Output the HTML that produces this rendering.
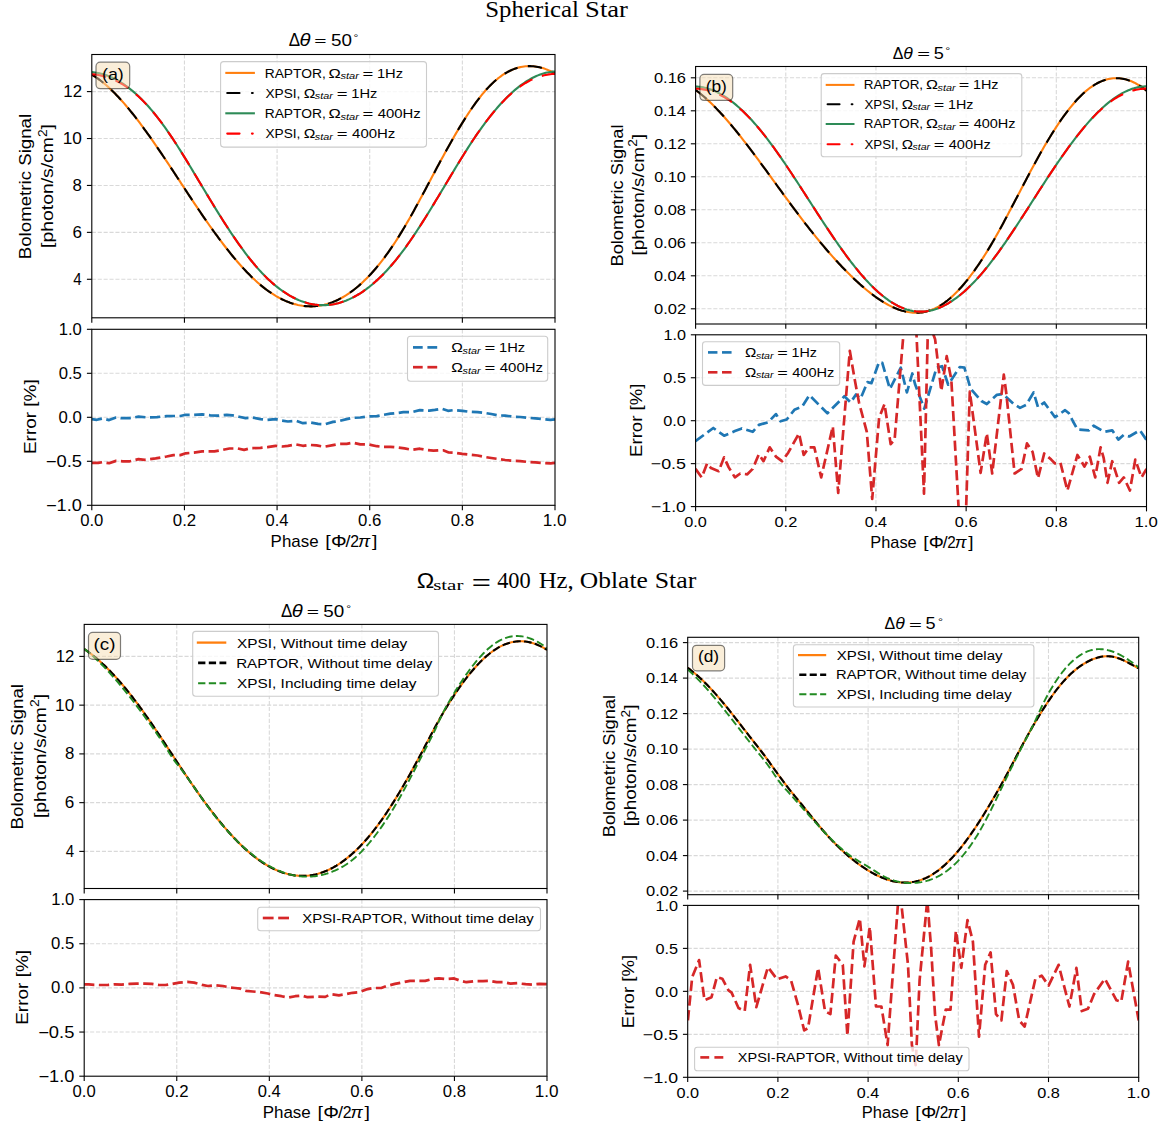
<!DOCTYPE html>
<html><head><meta charset="utf-8"><style>
html,body{margin:0;padding:0;background:#fff;}
svg{display:block;}
text{font-family:"Liberation Sans",sans-serif;}
</style></head><body>
<svg width="1170" height="1133" viewBox="0 0 1170 1133">
<rect width="1170" height="1133" fill="#fff"/>
<text transform="translate(485.24,16.6) scale(1.0842,1)" fill="#000"  xml:space="preserve"><tspan font-family="Liberation Serif" font-size="22.9">Spherical</tspan></text>
<text transform="translate(585.12,16.6) scale(1.1606,1)" fill="#000"  xml:space="preserve"><tspan font-family="Liberation Serif" font-size="22.9">Star</tspan></text>
<text transform="translate(416.69,587.6) scale(1.0351,1)" font-family="Liberation Serif" font-size="22.65" fill="#000" xml:space="preserve">Ω</text>
<text transform="translate(433.14,589.6) scale(1.3514,1)" fill="#000"  xml:space="preserve"><tspan font-family="Liberation Serif" font-size="15.5">star</tspan></text>
<text transform="translate(471.86,589.54) scale(1.4678,1)" font-family="Liberation Serif" font-size="22.4" fill="#000" xml:space="preserve">=</text>
<text transform="translate(497.16,587.7) scale(0.9529,1)" fill="#000"  xml:space="preserve"><tspan font-family="Liberation Serif" font-size="23.5">400</tspan></text>
<text transform="translate(538.69,587.7) scale(1.0540,1)" fill="#000"  xml:space="preserve"><tspan font-family="Liberation Serif" font-size="23.5">Hz,</tspan></text>
<text transform="translate(579.85,587.7) scale(1.0861,1)" fill="#000"  xml:space="preserve"><tspan font-family="Liberation Serif" font-size="23.5">Oblate</tspan></text>
<text transform="translate(654.77,587.7) scale(1.0977,1)" fill="#000"  xml:space="preserve"><tspan font-family="Liberation Serif" font-size="23.5">Star</tspan></text>
<clipPath id="cma"><rect x="91.8" y="54.5" width="463.2" height="263.3"/></clipPath>
<clipPath id="cea"><rect x="91.8" y="329.3" width="463.2" height="176"/></clipPath>
<line x1="184.44" y1="54.5" x2="184.44" y2="317.8" stroke="#d9d9d9" stroke-width="1.1" stroke-dasharray="4.1 1.8" />
<line x1="277.08" y1="54.5" x2="277.08" y2="317.8" stroke="#d9d9d9" stroke-width="1.1" stroke-dasharray="4.1 1.8" />
<line x1="369.72" y1="54.5" x2="369.72" y2="317.8" stroke="#d9d9d9" stroke-width="1.1" stroke-dasharray="4.1 1.8" />
<line x1="462.36" y1="54.5" x2="462.36" y2="317.8" stroke="#d9d9d9" stroke-width="1.1" stroke-dasharray="4.1 1.8" />
<line x1="91.8" y1="279.28" x2="555" y2="279.28" stroke="#d9d9d9" stroke-width="1.1" stroke-dasharray="4.1 1.8" />
<line x1="91.8" y1="232.36" x2="555" y2="232.36" stroke="#d9d9d9" stroke-width="1.1" stroke-dasharray="4.1 1.8" />
<line x1="91.8" y1="185.44" x2="555" y2="185.44" stroke="#d9d9d9" stroke-width="1.1" stroke-dasharray="4.1 1.8" />
<line x1="91.8" y1="138.52" x2="555" y2="138.52" stroke="#d9d9d9" stroke-width="1.1" stroke-dasharray="4.1 1.8" />
<line x1="91.8" y1="91.6" x2="555" y2="91.6" stroke="#d9d9d9" stroke-width="1.1" stroke-dasharray="4.1 1.8" />
<line x1="184.44" y1="329.3" x2="184.44" y2="505.3" stroke="#d9d9d9" stroke-width="1.1" stroke-dasharray="4.1 1.8" />
<line x1="277.08" y1="329.3" x2="277.08" y2="505.3" stroke="#d9d9d9" stroke-width="1.1" stroke-dasharray="4.1 1.8" />
<line x1="369.72" y1="329.3" x2="369.72" y2="505.3" stroke="#d9d9d9" stroke-width="1.1" stroke-dasharray="4.1 1.8" />
<line x1="462.36" y1="329.3" x2="462.36" y2="505.3" stroke="#d9d9d9" stroke-width="1.1" stroke-dasharray="4.1 1.8" />
<line x1="91.8" y1="461.3" x2="555" y2="461.3" stroke="#d9d9d9" stroke-width="1.1" stroke-dasharray="4.1 1.8" />
<line x1="91.8" y1="417.3" x2="555" y2="417.3" stroke="#d9d9d9" stroke-width="1.1" stroke-dasharray="4.1 1.8" />
<line x1="91.8" y1="373.3" x2="555" y2="373.3" stroke="#d9d9d9" stroke-width="1.1" stroke-dasharray="4.1 1.8" />
<path d="M91.8 74.56 L93.35 75.5 L94.9 76.5 L96.45 77.55 L98 78.64 L99.55 79.78 L101.09 80.97 L102.64 82.2 L104.19 83.47 L105.74 84.79 L107.29 86.16 L108.84 87.56 L110.39 89 L111.94 90.49 L113.49 92.01 L115.04 93.57 L116.59 95.17 L118.14 96.8 L119.68 98.47 L121.23 100.17 L122.78 101.91 L124.33 103.68 L125.88 105.48 L127.43 107.31 L128.98 109.18 L130.53 111.07 L132.08 112.99 L133.63 114.94 L135.18 116.91 L136.73 118.91 L138.27 120.94 L139.82 122.98 L141.37 125.05 L142.92 127.15 L144.47 129.26 L146.02 131.4 L147.57 133.55 L149.12 135.72 L150.67 137.91 L152.22 140.12 L153.77 142.34 L155.32 144.58 L156.86 146.83 L158.41 149.1 L159.96 151.38 L161.51 153.67 L163.06 155.97 L164.61 158.27 L166.16 160.59 L167.71 162.92 L169.26 165.25 L170.81 167.59 L172.36 169.94 L173.91 172.28 L175.45 174.64 L177 176.99 L178.55 179.35 L180.1 181.7 L181.65 184.06 L183.2 186.42 L184.75 188.77 L186.3 191.12 L187.85 193.47 L189.4 195.82 L190.95 198.16 L192.5 200.49 L194.04 202.81 L195.59 205.13 L197.14 207.44 L198.69 209.74 L200.24 212.02 L201.79 214.3 L203.34 216.56 L204.89 218.81 L206.44 221.05 L207.99 223.27 L209.54 225.48 L211.09 227.66 L212.63 229.83 L214.18 231.99 L215.73 234.12 L217.28 236.24 L218.83 238.34 L220.38 240.41 L221.93 242.47 L223.48 244.5 L225.03 246.51 L226.58 248.5 L228.13 250.46 L229.68 252.4 L231.22 254.32 L232.77 256.21 L234.32 258.07 L235.87 259.9 L237.42 261.71 L238.97 263.49 L240.52 265.24 L242.07 266.97 L243.62 268.66 L245.17 270.32 L246.72 271.95 L248.27 273.54 L249.81 275.11 L251.36 276.64 L252.91 278.14 L254.46 279.6 L256.01 281.03 L257.56 282.42 L259.11 283.77 L260.66 285.09 L262.21 286.37 L263.76 287.61 L265.31 288.81 L266.86 289.97 L268.4 291.1 L269.95 292.18 L271.5 293.23 L273.05 294.23 L274.6 295.2 L276.15 296.13 L277.7 297.01 L279.25 297.86 L280.8 298.67 L282.35 299.44 L283.9 300.17 L285.45 300.86 L286.99 301.5 L288.54 302.11 L290.09 302.68 L291.64 303.21 L293.19 303.69 L294.74 304.14 L296.29 304.54 L297.84 304.91 L299.39 305.23 L300.94 305.51 L302.49 305.76 L304.04 305.96 L305.58 306.11 L307.13 306.23 L308.68 306.31 L310.23 306.34 L311.78 306.33 L313.33 306.28 L314.88 306.19 L316.43 306.05 L317.98 305.88 L319.53 305.66 L321.08 305.4 L322.63 305.09 L324.17 304.75 L325.72 304.36 L327.27 303.93 L328.82 303.45 L330.37 302.93 L331.92 302.37 L333.47 301.77 L335.02 301.12 L336.57 300.43 L338.12 299.7 L339.67 298.92 L341.22 298.1 L342.76 297.24 L344.31 296.33 L345.86 295.38 L347.41 294.38 L348.96 293.34 L350.51 292.26 L352.06 291.14 L353.61 289.97 L355.16 288.75 L356.71 287.5 L358.26 286.2 L359.81 284.85 L361.35 283.46 L362.9 282.03 L364.45 280.55 L366 279.03 L367.55 277.47 L369.1 275.86 L370.65 274.2 L372.2 272.51 L373.75 270.77 L375.3 268.98 L376.85 267.15 L378.4 265.28 L379.94 263.36 L381.49 261.39 L383.04 259.39 L384.59 257.33 L386.14 255.24 L387.69 253.1 L389.24 250.91 L390.79 248.68 L392.34 246.4 L393.89 244.08 L395.44 241.72 L396.99 239.31 L398.53 236.86 L400.08 234.37 L401.63 231.84 L403.18 229.27 L404.73 226.67 L406.28 224.03 L407.83 221.37 L409.38 218.67 L410.93 215.94 L412.48 213.19 L414.03 210.41 L415.58 207.61 L417.12 204.79 L418.67 201.95 L420.22 199.09 L421.77 196.21 L423.32 193.32 L424.87 190.42 L426.42 187.51 L427.97 184.59 L429.52 181.67 L431.07 178.75 L432.62 175.83 L434.17 172.91 L435.71 170 L437.26 167.1 L438.81 164.21 L440.36 161.33 L441.91 158.47 L443.46 155.63 L445.01 152.8 L446.56 149.99 L448.11 147.2 L449.66 144.44 L451.21 141.7 L452.76 138.98 L454.3 136.3 L455.85 133.64 L457.4 131.01 L458.95 128.41 L460.5 125.85 L462.05 123.33 L463.6 120.84 L465.15 118.39 L466.7 115.98 L468.25 113.61 L469.8 111.29 L471.35 109.01 L472.89 106.77 L474.44 104.59 L475.99 102.45 L477.54 100.37 L479.09 98.34 L480.64 96.37 L482.19 94.45 L483.74 92.59 L485.29 90.79 L486.84 89.05 L488.39 87.37 L489.94 85.76 L491.48 84.21 L493.03 82.73 L494.58 81.32 L496.13 79.97 L497.68 78.69 L499.23 77.47 L500.78 76.32 L502.33 75.23 L503.88 74.21 L505.43 73.25 L506.98 72.35 L508.53 71.51 L510.07 70.74 L511.62 70.03 L513.17 69.38 L514.72 68.79 L516.27 68.26 L517.82 67.79 L519.37 67.38 L520.92 67.02 L522.47 66.73 L524.02 66.5 L525.57 66.32 L527.12 66.2 L528.66 66.14 L530.21 66.14 L531.76 66.19 L533.31 66.3 L534.86 66.46 L536.41 66.68 L537.96 66.95 L539.51 67.28 L541.06 67.66 L542.61 68.09 L544.16 68.58 L545.71 69.12 L547.25 69.71 L548.8 70.35 L550.35 71.04 L551.9 71.79 L553.45 72.59 L555 73.43" fill="none" stroke="#ff7f0e" stroke-width="2.1" stroke-linejoin="round" clip-path="url(#cma)" />
<path d="M91.8 74.56 L93.35 75.5 L94.9 76.5 L96.45 77.55 L98 78.64 L99.55 79.78 L101.09 80.97 L102.64 82.2 L104.19 83.47 L105.74 84.79 L107.29 86.16 L108.84 87.56 L110.39 89 L111.94 90.49 L113.49 92.01 L115.04 93.57 L116.59 95.17 L118.14 96.8 L119.68 98.47 L121.23 100.17 L122.78 101.91 L124.33 103.68 L125.88 105.48 L127.43 107.31 L128.98 109.18 L130.53 111.07 L132.08 112.99 L133.63 114.94 L135.18 116.91 L136.73 118.91 L138.27 120.94 L139.82 122.98 L141.37 125.05 L142.92 127.15 L144.47 129.26 L146.02 131.4 L147.57 133.55 L149.12 135.72 L150.67 137.91 L152.22 140.12 L153.77 142.34 L155.32 144.58 L156.86 146.83 L158.41 149.1 L159.96 151.38 L161.51 153.67 L163.06 155.97 L164.61 158.27 L166.16 160.59 L167.71 162.92 L169.26 165.25 L170.81 167.59 L172.36 169.94 L173.91 172.28 L175.45 174.64 L177 176.99 L178.55 179.35 L180.1 181.7 L181.65 184.06 L183.2 186.42 L184.75 188.77 L186.3 191.12 L187.85 193.47 L189.4 195.82 L190.95 198.16 L192.5 200.49 L194.04 202.81 L195.59 205.13 L197.14 207.44 L198.69 209.74 L200.24 212.02 L201.79 214.3 L203.34 216.56 L204.89 218.81 L206.44 221.05 L207.99 223.27 L209.54 225.48 L211.09 227.66 L212.63 229.83 L214.18 231.99 L215.73 234.12 L217.28 236.24 L218.83 238.34 L220.38 240.41 L221.93 242.47 L223.48 244.5 L225.03 246.51 L226.58 248.5 L228.13 250.46 L229.68 252.4 L231.22 254.32 L232.77 256.21 L234.32 258.07 L235.87 259.9 L237.42 261.71 L238.97 263.49 L240.52 265.24 L242.07 266.97 L243.62 268.66 L245.17 270.32 L246.72 271.95 L248.27 273.54 L249.81 275.11 L251.36 276.64 L252.91 278.14 L254.46 279.6 L256.01 281.03 L257.56 282.42 L259.11 283.77 L260.66 285.09 L262.21 286.37 L263.76 287.61 L265.31 288.81 L266.86 289.97 L268.4 291.1 L269.95 292.18 L271.5 293.23 L273.05 294.23 L274.6 295.2 L276.15 296.13 L277.7 297.01 L279.25 297.86 L280.8 298.67 L282.35 299.44 L283.9 300.17 L285.45 300.86 L286.99 301.5 L288.54 302.11 L290.09 302.68 L291.64 303.21 L293.19 303.69 L294.74 304.14 L296.29 304.54 L297.84 304.91 L299.39 305.23 L300.94 305.51 L302.49 305.76 L304.04 305.96 L305.58 306.11 L307.13 306.23 L308.68 306.31 L310.23 306.34 L311.78 306.33 L313.33 306.28 L314.88 306.19 L316.43 306.05 L317.98 305.88 L319.53 305.66 L321.08 305.4 L322.63 305.09 L324.17 304.75 L325.72 304.36 L327.27 303.93 L328.82 303.45 L330.37 302.93 L331.92 302.37 L333.47 301.77 L335.02 301.12 L336.57 300.43 L338.12 299.7 L339.67 298.92 L341.22 298.1 L342.76 297.24 L344.31 296.33 L345.86 295.38 L347.41 294.38 L348.96 293.34 L350.51 292.26 L352.06 291.14 L353.61 289.97 L355.16 288.75 L356.71 287.5 L358.26 286.2 L359.81 284.85 L361.35 283.46 L362.9 282.03 L364.45 280.55 L366 279.03 L367.55 277.47 L369.1 275.86 L370.65 274.2 L372.2 272.51 L373.75 270.77 L375.3 268.98 L376.85 267.15 L378.4 265.28 L379.94 263.36 L381.49 261.39 L383.04 259.39 L384.59 257.33 L386.14 255.24 L387.69 253.1 L389.24 250.91 L390.79 248.68 L392.34 246.4 L393.89 244.08 L395.44 241.72 L396.99 239.31 L398.53 236.86 L400.08 234.37 L401.63 231.84 L403.18 229.27 L404.73 226.67 L406.28 224.03 L407.83 221.37 L409.38 218.67 L410.93 215.94 L412.48 213.19 L414.03 210.41 L415.58 207.61 L417.12 204.79 L418.67 201.95 L420.22 199.09 L421.77 196.21 L423.32 193.32 L424.87 190.42 L426.42 187.51 L427.97 184.59 L429.52 181.67 L431.07 178.75 L432.62 175.83 L434.17 172.91 L435.71 170 L437.26 167.1 L438.81 164.21 L440.36 161.33 L441.91 158.47 L443.46 155.63 L445.01 152.8 L446.56 149.99 L448.11 147.2 L449.66 144.44 L451.21 141.7 L452.76 138.98 L454.3 136.3 L455.85 133.64 L457.4 131.01 L458.95 128.41 L460.5 125.85 L462.05 123.33 L463.6 120.84 L465.15 118.39 L466.7 115.98 L468.25 113.61 L469.8 111.29 L471.35 109.01 L472.89 106.77 L474.44 104.59 L475.99 102.45 L477.54 100.37 L479.09 98.34 L480.64 96.37 L482.19 94.45 L483.74 92.59 L485.29 90.79 L486.84 89.05 L488.39 87.37 L489.94 85.76 L491.48 84.21 L493.03 82.73 L494.58 81.32 L496.13 79.97 L497.68 78.69 L499.23 77.47 L500.78 76.32 L502.33 75.23 L503.88 74.21 L505.43 73.25 L506.98 72.35 L508.53 71.51 L510.07 70.74 L511.62 70.03 L513.17 69.38 L514.72 68.79 L516.27 68.26 L517.82 67.79 L519.37 67.38 L520.92 67.02 L522.47 66.73 L524.02 66.5 L525.57 66.32 L527.12 66.2 L528.66 66.14 L530.21 66.14 L531.76 66.19 L533.31 66.3 L534.86 66.46 L536.41 66.68 L537.96 66.95 L539.51 67.28 L541.06 67.66 L542.61 68.09 L544.16 68.58 L545.71 69.12 L547.25 69.71 L548.8 70.35 L550.35 71.04 L551.9 71.79 L553.45 72.59 L555 73.43" fill="none" stroke="#000" stroke-width="2.1" stroke-dasharray="14.2 10.4" stroke-linejoin="round" clip-path="url(#cma)" />
<path d="M91.8 72.15 L93.35 72.29 L94.9 72.47 L96.45 72.7 L98 72.98 L99.55 73.3 L101.09 73.67 L102.64 74.09 L104.19 74.55 L105.74 75.06 L107.29 75.61 L108.84 76.21 L110.39 76.85 L111.94 77.54 L113.49 78.28 L115.04 79.06 L116.59 79.88 L118.14 80.75 L119.68 81.67 L121.23 82.63 L122.78 83.63 L124.33 84.68 L125.88 85.77 L127.43 86.9 L128.98 88.08 L130.53 89.3 L132.08 90.57 L133.63 91.87 L135.18 93.23 L136.73 94.62 L138.27 96.06 L139.82 97.54 L141.37 99.06 L142.92 100.63 L144.47 102.24 L146.02 103.89 L147.57 105.58 L149.12 107.31 L150.67 109.09 L152.22 110.9 L153.77 112.76 L155.32 114.66 L156.86 116.6 L158.41 118.59 L159.96 120.61 L161.51 122.67 L163.06 124.78 L164.61 126.92 L166.16 129.1 L167.71 131.32 L169.26 133.57 L170.81 135.86 L172.36 138.17 L173.91 140.52 L175.45 142.89 L177 145.29 L178.55 147.71 L180.1 150.16 L181.65 152.63 L183.2 155.11 L184.75 157.62 L186.3 160.14 L187.85 162.67 L189.4 165.22 L190.95 167.78 L192.5 170.34 L194.04 172.92 L195.59 175.5 L197.14 178.09 L198.69 180.67 L200.24 183.26 L201.79 185.85 L203.34 188.44 L204.89 191.02 L206.44 193.59 L207.99 196.16 L209.54 198.72 L211.09 201.27 L212.63 203.81 L214.18 206.34 L215.73 208.85 L217.28 211.35 L218.83 213.84 L220.38 216.3 L221.93 218.76 L223.48 221.19 L225.03 223.6 L226.58 226 L228.13 228.37 L229.68 230.72 L231.22 233.05 L232.77 235.35 L234.32 237.63 L235.87 239.89 L237.42 242.11 L238.97 244.31 L240.52 246.48 L242.07 248.61 L243.62 250.72 L245.17 252.79 L246.72 254.83 L248.27 256.84 L249.81 258.81 L251.36 260.75 L252.91 262.64 L254.46 264.5 L256.01 266.32 L257.56 268.1 L259.11 269.84 L260.66 271.53 L262.21 273.19 L263.76 274.8 L265.31 276.37 L266.86 277.9 L268.4 279.39 L269.95 280.83 L271.5 282.23 L273.05 283.6 L274.6 284.92 L276.15 286.19 L277.7 287.43 L279.25 288.63 L280.8 289.78 L282.35 290.89 L283.9 291.96 L285.45 292.99 L286.99 293.97 L288.54 294.92 L290.09 295.82 L291.64 296.68 L293.19 297.5 L294.74 298.28 L296.29 299.02 L297.84 299.71 L299.39 300.36 L300.94 300.97 L302.49 301.54 L304.04 302.07 L305.58 302.56 L307.13 303 L308.68 303.41 L310.23 303.77 L311.78 304.09 L313.33 304.37 L314.88 304.61 L316.43 304.8 L317.98 304.96 L319.53 305.07 L321.08 305.14 L322.63 305.17 L324.17 305.16 L325.72 305.11 L327.27 305.02 L328.82 304.88 L330.37 304.7 L331.92 304.49 L333.47 304.23 L335.02 303.93 L336.57 303.58 L338.12 303.2 L339.67 302.78 L341.22 302.31 L342.76 301.8 L344.31 301.26 L345.86 300.67 L347.41 300.04 L348.96 299.37 L350.51 298.66 L352.06 297.91 L353.61 297.11 L355.16 296.28 L356.71 295.41 L358.26 294.49 L359.81 293.54 L361.35 292.54 L362.9 291.51 L364.45 290.43 L366 289.32 L367.55 288.16 L369.1 286.97 L370.65 285.73 L372.2 284.45 L373.75 283.14 L375.3 281.78 L376.85 280.39 L378.4 278.95 L379.94 277.47 L381.49 275.96 L383.04 274.41 L384.59 272.81 L386.14 271.18 L387.69 269.5 L389.24 267.79 L390.79 266.04 L392.34 264.25 L393.89 262.42 L395.44 260.55 L396.99 258.64 L398.53 256.69 L400.08 254.7 L401.63 252.68 L403.18 250.61 L404.73 248.51 L406.28 246.38 L407.83 244.21 L409.38 242 L410.93 239.77 L412.48 237.5 L414.03 235.21 L415.58 232.89 L417.12 230.54 L418.67 228.17 L420.22 225.77 L421.77 223.35 L423.32 220.91 L424.87 218.46 L426.42 215.98 L427.97 213.49 L429.52 210.98 L431.07 208.46 L432.62 205.92 L434.17 203.38 L435.71 200.82 L437.26 198.26 L438.81 195.69 L440.36 193.11 L441.91 190.53 L443.46 187.94 L445.01 185.36 L446.56 182.77 L448.11 180.18 L449.66 177.6 L451.21 175.02 L452.76 172.44 L454.3 169.88 L455.85 167.32 L457.4 164.77 L458.95 162.24 L460.5 159.72 L462.05 157.22 L463.6 154.73 L465.15 152.27 L466.7 149.82 L468.25 147.4 L469.8 145 L471.35 142.63 L472.89 140.29 L474.44 137.98 L475.99 135.7 L477.54 133.44 L479.09 131.23 L480.64 129.04 L482.19 126.89 L483.74 124.77 L485.29 122.68 L486.84 120.63 L488.39 118.61 L489.94 116.63 L491.48 114.69 L493.03 112.78 L494.58 110.91 L496.13 109.07 L497.68 107.28 L499.23 105.52 L500.78 103.8 L502.33 102.12 L503.88 100.49 L505.43 98.89 L506.98 97.33 L508.53 95.81 L510.07 94.34 L511.62 92.9 L513.17 91.51 L514.72 90.16 L516.27 88.86 L517.82 87.6 L519.37 86.38 L520.92 85.21 L522.47 84.08 L524.02 83 L525.57 81.96 L527.12 80.97 L528.66 80.03 L530.21 79.13 L531.76 78.28 L533.31 77.48 L534.86 76.73 L536.41 76.02 L537.96 75.37 L539.51 74.76 L541.06 74.21 L542.61 73.7 L544.16 73.25 L545.71 72.84 L547.25 72.49 L548.8 72.19 L550.35 71.95 L551.9 71.75 L553.45 71.61 L555 71.53" fill="none" stroke="#2e8b57" stroke-width="2.1" stroke-linejoin="round" clip-path="url(#cma)" />
<path d="M91.8 74.25 L93.35 74.38 L94.9 74.55 L96.45 74.76 L98 75 L99.55 75.29 L101.09 75.61 L102.64 75.97 L104.19 76.36 L105.74 76.8 L107.29 77.28 L108.84 77.8 L110.39 78.37 L111.94 78.97 L113.49 79.62 L115.04 80.32 L116.59 81.05 L118.14 81.84 L119.68 82.67 L121.23 83.55 L122.78 84.47 L124.33 85.44 L125.88 86.46 L127.43 87.53 L128.98 88.64 L130.53 89.8 L132.08 91.01 L133.63 92.27 L135.18 93.58 L136.73 94.93 L138.27 96.33 L139.82 97.77 L141.37 99.27 L142.92 100.8 L144.47 102.39 L146.02 104.01 L147.57 105.69 L149.12 107.4 L150.67 109.16 L152.22 110.97 L153.77 112.82 L155.32 114.71 L156.86 116.64 L158.41 118.62 L159.96 120.63 L161.51 122.69 L163.06 124.79 L164.61 126.93 L166.16 129.11 L167.71 131.33 L169.26 133.58 L170.81 135.86 L172.36 138.18 L173.91 140.52 L175.45 142.89 L177 145.29 L178.55 147.72 L180.1 150.16 L181.65 152.63 L183.2 155.11 L184.75 157.62 L186.3 160.14 L187.85 162.67 L189.4 165.22 L190.95 167.78 L192.5 170.34 L194.04 172.92 L195.59 175.5 L197.14 178.09 L198.69 180.67 L200.24 183.26 L201.79 185.85 L203.34 188.44 L204.89 191.02 L206.44 193.59 L207.99 196.16 L209.54 198.72 L211.09 201.27 L212.63 203.81 L214.18 206.34 L215.73 208.85 L217.28 211.35 L218.83 213.84 L220.38 216.3 L221.93 218.76 L223.48 221.19 L225.03 223.6 L226.58 226 L228.13 228.37 L229.68 230.72 L231.22 233.05 L232.77 235.35 L234.32 237.63 L235.87 239.89 L237.42 242.11 L238.97 244.31 L240.52 246.48 L242.07 248.61 L243.62 250.72 L245.17 252.79 L246.72 254.83 L248.27 256.84 L249.81 258.81 L251.36 260.75 L252.91 262.64 L254.46 264.5 L256.01 266.32 L257.56 268.1 L259.11 269.84 L260.66 271.53 L262.21 273.19 L263.76 274.8 L265.31 276.37 L266.86 277.9 L268.4 279.39 L269.95 280.83 L271.5 282.23 L273.05 283.6 L274.6 284.92 L276.15 286.19 L277.7 287.43 L279.25 288.63 L280.8 289.78 L282.35 290.89 L283.9 291.96 L285.45 292.99 L286.99 293.97 L288.54 294.92 L290.09 295.82 L291.64 296.68 L293.19 297.5 L294.74 298.28 L296.29 299.02 L297.84 299.71 L299.39 300.36 L300.94 300.97 L302.49 301.54 L304.04 302.07 L305.58 302.56 L307.13 303 L308.68 303.41 L310.23 303.77 L311.78 304.09 L313.33 304.37 L314.88 304.61 L316.43 304.8 L317.98 304.96 L319.53 305.07 L321.08 305.14 L322.63 305.17 L324.17 305.16 L325.72 305.11 L327.27 305.02 L328.82 304.88 L330.37 304.7 L331.92 304.49 L333.47 304.23 L335.02 303.93 L336.57 303.58 L338.12 303.2 L339.67 302.78 L341.22 302.31 L342.76 301.8 L344.31 301.26 L345.86 300.67 L347.41 300.04 L348.96 299.37 L350.51 298.66 L352.06 297.91 L353.61 297.11 L355.16 296.28 L356.71 295.41 L358.26 294.49 L359.81 293.54 L361.35 292.54 L362.9 291.51 L364.45 290.43 L366 289.32 L367.55 288.16 L369.1 286.97 L370.65 285.73 L372.2 284.45 L373.75 283.14 L375.3 281.78 L376.85 280.39 L378.4 278.95 L379.94 277.47 L381.49 275.96 L383.04 274.41 L384.59 272.81 L386.14 271.18 L387.69 269.5 L389.24 267.79 L390.79 266.04 L392.34 264.25 L393.89 262.42 L395.44 260.55 L396.99 258.64 L398.53 256.69 L400.08 254.7 L401.63 252.68 L403.18 250.61 L404.73 248.51 L406.28 246.38 L407.83 244.21 L409.38 242 L410.93 239.77 L412.48 237.5 L414.03 235.21 L415.58 232.89 L417.12 230.54 L418.67 228.17 L420.22 225.77 L421.77 223.35 L423.32 220.91 L424.87 218.46 L426.42 215.98 L427.97 213.49 L429.52 210.98 L431.07 208.46 L432.62 205.92 L434.17 203.38 L435.71 200.82 L437.26 198.26 L438.81 195.69 L440.36 193.11 L441.91 190.53 L443.46 187.94 L445.01 185.36 L446.56 182.77 L448.11 180.18 L449.66 177.6 L451.21 175.02 L452.76 172.44 L454.3 169.88 L455.85 167.32 L457.4 164.77 L458.95 162.24 L460.5 159.72 L462.05 157.22 L463.6 154.73 L465.15 152.27 L466.7 149.82 L468.25 147.4 L469.8 145.01 L471.35 142.64 L472.89 140.29 L474.44 137.98 L475.99 135.7 L477.54 133.45 L479.09 131.24 L480.64 129.05 L482.19 126.9 L483.74 124.78 L485.29 122.7 L486.84 120.66 L488.39 118.65 L489.94 116.67 L491.48 114.74 L493.03 112.84 L494.58 110.98 L496.13 109.16 L497.68 107.38 L499.23 105.64 L500.78 103.94 L502.33 102.29 L503.88 100.68 L505.43 99.11 L506.98 97.59 L508.53 96.11 L510.07 94.67 L511.62 93.29 L513.17 91.95 L514.72 90.66 L516.27 89.41 L517.82 88.22 L519.37 87.07 L520.92 85.97 L522.47 84.92 L524.02 83.92 L525.57 82.97 L527.12 82.07 L528.66 81.22 L530.21 80.41 L531.76 79.66 L533.31 78.95 L534.86 78.29 L536.41 77.68 L537.96 77.11 L539.51 76.59 L541.06 76.12 L542.61 75.69 L544.16 75.3 L545.71 74.96 L547.25 74.67 L548.8 74.41 L550.35 74.2 L551.9 74.03 L553.45 73.91 L555 73.83" fill="none" stroke="#ff0000" stroke-width="2.1" stroke-dasharray="14.7 10.0" stroke-linejoin="round" clip-path="url(#cma)" />
<path d="M91.8 419.1 L96.8 419.8 L102.3 418.5 L109.1 420.1 L116 417.5 L121.5 418.2 L129.7 418.1 L138.5 416.7 L147.4 417.4 L157 417.1 L166.6 416.1 L173.4 416 L180.3 416 L185.7 414.8 L193.9 414.8 L202.1 414.4 L210.3 415.3 L218.5 415.7 L226.8 414.8 L232.2 415.3 L239.1 416.8 L245.5 418.1 L252.3 417.5 L260.5 419.1 L267.4 419.8 L275.6 419.1 L281 420.5 L287.9 421.5 L296.1 420.8 L302.9 423.2 L311.1 422.6 L318 423.9 L324.8 424.3 L333 421.9 L338.5 421.2 L346.7 419.1 L353.5 417.8 L360.3 417.5 L368.5 416.4 L376.8 416.1 L383.6 414.8 L390.4 413.7 L397.3 413 L403.3 412.2 L411.5 412.2 L419.8 410.1 L429.4 410.6 L434.9 409.9 L441.8 408.8 L448 410.8 L454.2 410.1 L462.4 410.8 L469.3 411.8 L477.6 412.2 L484.4 412.9 L491.3 414 L498.2 415.4 L505.1 415.6 L513.3 416.7 L520.2 417 L527.1 417.7 L535.4 418.4 L542.2 419.1 L550.5 419.8 L555 419.4" fill="none" stroke="#1f77b4" stroke-width="2.7" stroke-dasharray="10.3 4.5" stroke-linejoin="round" clip-path="url(#cea)" />
<path d="M91.8 462.9 L98.2 462.9 L102.3 462.2 L109.1 463.2 L116 460.9 L122.8 461.3 L129.7 461.3 L138.5 459.1 L144.7 459.8 L155.6 458.4 L166.6 456.5 L173.4 455.1 L180.3 455.1 L185.7 453.3 L193.9 452.6 L202.1 451.3 L209 451.3 L214.4 451.3 L222.6 449.9 L229.5 448.5 L237.7 448.5 L244.1 449.9 L250.9 448.1 L260.5 447.9 L267.4 447.2 L275.6 445.8 L282.4 446.5 L287.9 445.8 L296.1 444.4 L302.9 445.8 L309.7 444.9 L316.6 445.4 L324.1 446.8 L333 445.1 L338.5 444 L346.7 443.8 L352.8 442.7 L360.3 444.4 L368.5 444.4 L376.8 446.2 L382.2 446.8 L390.4 446.8 L398.6 447.6 L404.6 448.4 L411.5 449.8 L419.8 448.7 L425.3 449.8 L433.5 450.7 L440.4 450.3 L443.2 450.3 L448.7 452.5 L455.5 452.8 L462.4 453.9 L469.3 454.6 L477.6 455.5 L484.4 456.9 L491.3 458 L498.2 459 L505.1 460 L513.3 460.8 L520.2 461.1 L528.5 462 L535.4 462.4 L543.6 463.1 L550.5 463.4 L555 462.8" fill="none" stroke="#d62728" stroke-width="2.7" stroke-dasharray="10.3 4.5" stroke-linejoin="round" clip-path="url(#cea)" />
<rect x="91.8" y="54.5" width="463.2" height="263.3" fill="none" stroke="#000" stroke-width="1.1"/>
<line x1="86.9" y1="279.28" x2="91.8" y2="279.28" stroke="#000" stroke-width="1.1" />
<text transform="translate(73.25,284.78) scale(0.9668,1)" fill="#000"  xml:space="preserve"><tspan font-family="Liberation Sans" font-size="15.6">4</tspan></text>
<line x1="86.9" y1="232.36" x2="91.8" y2="232.36" stroke="#000" stroke-width="1.1" />
<text transform="translate(72.43,237.86) scale(1.0975,1)" fill="#000"  xml:space="preserve"><tspan font-family="Liberation Sans" font-size="15.6">6</tspan></text>
<line x1="86.9" y1="185.44" x2="91.8" y2="185.44" stroke="#000" stroke-width="1.1" />
<text transform="translate(72.57,190.94) scale(1.0792,1)" fill="#000"  xml:space="preserve"><tspan font-family="Liberation Sans" font-size="15.6">8</tspan></text>
<line x1="86.9" y1="138.52" x2="91.8" y2="138.52" stroke="#000" stroke-width="1.1" />
<text transform="translate(62.69,144.02) scale(1.1058,1)" fill="#000"  xml:space="preserve"><tspan font-family="Liberation Sans" font-size="15.6">10</tspan></text>
<line x1="86.9" y1="91.6" x2="91.8" y2="91.6" stroke="#000" stroke-width="1.1" />
<text transform="translate(63.32,97.1) scale(1.0794,1)" fill="#000"  xml:space="preserve"><tspan font-family="Liberation Sans" font-size="15.6">12</tspan></text>
<line x1="91.8" y1="317.8" x2="91.8" y2="322.7" stroke="#000" stroke-width="1.1" />
<line x1="184.44" y1="317.8" x2="184.44" y2="322.7" stroke="#000" stroke-width="1.1" />
<line x1="277.08" y1="317.8" x2="277.08" y2="322.7" stroke="#000" stroke-width="1.1" />
<line x1="369.72" y1="317.8" x2="369.72" y2="322.7" stroke="#000" stroke-width="1.1" />
<line x1="462.36" y1="317.8" x2="462.36" y2="322.7" stroke="#000" stroke-width="1.1" />
<line x1="555" y1="317.8" x2="555" y2="322.7" stroke="#000" stroke-width="1.1" />
<rect x="91.8" y="329.3" width="463.2" height="176" fill="none" stroke="#000" stroke-width="1.1"/>
<line x1="86.9" y1="505.3" x2="91.8" y2="505.3" stroke="#000" stroke-width="1.1" />
<text transform="translate(46,510.8) scale(1.1660,1)" fill="#000"  xml:space="preserve"><tspan font-family="Liberation Sans" font-size="15.6">−1.0</tspan></text>
<line x1="86.9" y1="461.3" x2="91.8" y2="461.3" stroke="#000" stroke-width="1.1" />
<text transform="translate(45.69,466.8) scale(1.1780,1)" fill="#000"  xml:space="preserve"><tspan font-family="Liberation Sans" font-size="15.6">−0.5</tspan></text>
<line x1="86.9" y1="417.3" x2="91.8" y2="417.3" stroke="#000" stroke-width="1.1" />
<text transform="translate(58.54,422.8) scale(1.0749,1)" fill="#000"  xml:space="preserve"><tspan font-family="Liberation Sans" font-size="15.6">0.0</tspan></text>
<line x1="86.9" y1="373.3" x2="91.8" y2="373.3" stroke="#000" stroke-width="1.1" />
<text transform="translate(58.65,378.8) scale(1.0724,1)" fill="#000"  xml:space="preserve"><tspan font-family="Liberation Sans" font-size="15.6">0.5</tspan></text>
<line x1="86.9" y1="329.3" x2="91.8" y2="329.3" stroke="#000" stroke-width="1.1" />
<text transform="translate(58.73,334.8) scale(1.0659,1)" fill="#000"  xml:space="preserve"><tspan font-family="Liberation Sans" font-size="15.6">1.0</tspan></text>
<line x1="91.8" y1="505.3" x2="91.8" y2="510.2" stroke="#000" stroke-width="1.1" />
<text transform="translate(80.2,526.1) scale(1.0700,1)" fill="#000"  xml:space="preserve"><tspan font-family="Liberation Sans" font-size="15.6">0.0</tspan></text>
<line x1="184.44" y1="505.3" x2="184.44" y2="510.2" stroke="#000" stroke-width="1.1" />
<text transform="translate(172.83,526.1) scale(1.0792,1)" fill="#000"  xml:space="preserve"><tspan font-family="Liberation Sans" font-size="15.6">0.2</tspan></text>
<line x1="277.08" y1="505.3" x2="277.08" y2="510.2" stroke="#000" stroke-width="1.1" />
<text transform="translate(265.48,526.1) scale(1.0621,1)" fill="#000"  xml:space="preserve"><tspan font-family="Liberation Sans" font-size="15.6">0.4</tspan></text>
<line x1="369.72" y1="505.3" x2="369.72" y2="510.2" stroke="#000" stroke-width="1.1" />
<text transform="translate(358.12,526.1) scale(1.0740,1)" fill="#000"  xml:space="preserve"><tspan font-family="Liberation Sans" font-size="15.6">0.6</tspan></text>
<line x1="462.36" y1="505.3" x2="462.36" y2="510.2" stroke="#000" stroke-width="1.1" />
<text transform="translate(450.76,526.1) scale(1.0736,1)" fill="#000"  xml:space="preserve"><tspan font-family="Liberation Sans" font-size="15.6">0.8</tspan></text>
<line x1="555" y1="505.3" x2="555" y2="510.2" stroke="#000" stroke-width="1.1" />
<text transform="translate(542.74,526.1) scale(1.1011,1)" fill="#000"  xml:space="preserve"><tspan font-family="Liberation Sans" font-size="15.6">1.0</tspan></text>
<text transform="translate(288.7,46) scale(0.9714,1)" font-family="Liberation Sans" font-size="17.44" fill="#000" xml:space="preserve">Δ</text>
<text transform="translate(299.5,46.03) scale(1.1342,1)" font-family="Liberation Sans" font-size="17.84" font-style="italic" fill="#000" xml:space="preserve">θ</text>
<text transform="translate(314.37,45.29) scale(1.5377,1)" font-family="Liberation Sans" font-size="13.65" fill="#000" xml:space="preserve">=</text>
<text transform="translate(331.04,46.03) scale(1.0953,1)" font-family="Liberation Sans" font-size="17.23" fill="#000" xml:space="preserve">50</text>
<text transform="translate(353.48,41.37) scale(1.3505,1)" font-family="Liberation Sans" font-size="8.98" fill="#000" xml:space="preserve">°</text>
<text transform="translate(270.61,546.7) scale(1.0185,1)" fill="#000"  xml:space="preserve"><tspan font-family="Liberation Sans" font-size="16.6">Phase</tspan></text>
<text transform="translate(325.3,546.7) scale(1.1822,1)" fill="#000"  xml:space="preserve"><tspan font-family="Liberation Sans" font-size="16.6">[</tspan></text>
<text transform="translate(331.08,546.7) scale(1.1800,1)" fill="#000"  xml:space="preserve"><tspan font-family="Liberation Sans" font-size="16.6">Φ</tspan></text>
<text transform="translate(345.6,546.7) scale(1.0841,1)" fill="#000"  xml:space="preserve"><tspan font-family="Liberation Sans" font-size="16.6">/</tspan></text>
<text transform="translate(350.31,546.7) scale(0.9521,1)" fill="#000"  xml:space="preserve"><tspan font-family="Liberation Sans" font-size="16.6">2</tspan></text>
<text transform="translate(358.09,546.7) scale(1.1002,1)" fill="#000"  xml:space="preserve"><tspan font-family="Liberation Sans" font-size="16.6" font-style="italic">π</tspan></text>
<text transform="translate(372.05,546.7) scale(1.1822,1)" fill="#000"  xml:space="preserve"><tspan font-family="Liberation Sans" font-size="16.6">]</tspan></text>
<text transform="translate(31.1,259.23) rotate(-90) scale(1.0990,1)" fill="#000"  xml:space="preserve"><tspan font-family="Liberation Sans" font-size="17">Bolometric Signal</tspan></text>
<text transform="translate(53.4,247.88) rotate(-90) scale(1.1390,1)" fill="#000"  xml:space="preserve"><tspan font-family="Liberation Sans" font-size="17">[photon/s/cm</tspan><tspan font-family="Liberation Sans" font-size="12.2" dy="-6.6">2</tspan><tspan font-family="Liberation Sans" font-size="17" dy="6.6">]</tspan></text>
<text transform="translate(36,454.06) rotate(-90) scale(1.1155,1)" fill="#000"  xml:space="preserve"><tspan font-family="Liberation Sans" font-size="17">Error [%]</tspan></text>
<rect x="96" y="62.2" width="33.7" height="26.5" rx="4.2" fill="#f5deb3" stroke="#000" stroke-width="1.2" fill-opacity="0.5" stroke-opacity="0.5"/>
<text transform="translate(101.94,79.75) scale(1.0624,1)" fill="#000"  xml:space="preserve"><tspan font-family="Liberation Sans" font-size="16.8">(a)</tspan></text>
<rect x="220.6" y="61.6" width="205.9" height="85.5" rx="3" fill="#ffffff" stroke="#cccccc" stroke-width="1.1" fill-opacity="0.8"/>
<line x1="225.3" y1="72.9" x2="254.9" y2="72.9" stroke="#ff7f0e" stroke-width="2.1" />
<line x1="227.25" y1="93" x2="239.55" y2="93" stroke="#000" stroke-width="2.1" stroke-linecap="round"/>
<line x1="251.95" y1="93" x2="252.75" y2="93" stroke="#000" stroke-width="2.1" stroke-linecap="round"/>
<line x1="225.3" y1="113.3" x2="254.9" y2="113.3" stroke="#2e8b57" stroke-width="2.1" />
<line x1="227.25" y1="133.6" x2="239.55" y2="133.6" stroke="#ff0000" stroke-width="2.1" stroke-linecap="round"/>
<line x1="251.95" y1="133.6" x2="252.75" y2="133.6" stroke="#ff0000" stroke-width="2.1" stroke-linecap="round"/>
<text transform="translate(264.67,77.5) scale(1.0304,1)" fill="#000"  xml:space="preserve"><tspan font-family="Liberation Sans" font-size="13.4">RAPTOR,</tspan></text>
<text transform="translate(328.6,77.5) scale(1.2285,1)" fill="#000"  xml:space="preserve"><tspan font-family="Liberation Sans" font-size="13.4">Ω</tspan></text>
<text transform="translate(340.47,79.2) scale(1.1473,1)" fill="#000"  xml:space="preserve"><tspan font-family="Liberation Sans" font-size="9.7" font-style="italic">star</tspan></text>
<text transform="translate(362.4,77.5) scale(1.3824,1)" fill="#000"  xml:space="preserve"><tspan font-family="Liberation Sans" font-size="13.4">=</tspan></text>
<text transform="translate(376.88,77.5) scale(1.1020,1)" fill="#000"  xml:space="preserve"><tspan font-family="Liberation Sans" font-size="13.4">1Hz</tspan></text>
<text transform="translate(265.49,97.6) scale(1.0197,1)" fill="#000"  xml:space="preserve"><tspan font-family="Liberation Sans" font-size="13.4">XPSI,</tspan></text>
<text transform="translate(303.64,97.6) scale(1.1609,1)" fill="#000"  xml:space="preserve"><tspan font-family="Liberation Sans" font-size="13.4">Ω</tspan></text>
<text transform="translate(314.77,99.3) scale(1.1170,1)" fill="#000"  xml:space="preserve"><tspan font-family="Liberation Sans" font-size="9.7" font-style="italic">star</tspan></text>
<text transform="translate(336.7,97.6) scale(1.3824,1)" fill="#000"  xml:space="preserve"><tspan font-family="Liberation Sans" font-size="13.4">=</tspan></text>
<text transform="translate(351.28,97.6) scale(1.0975,1)" fill="#000"  xml:space="preserve"><tspan font-family="Liberation Sans" font-size="13.4">1Hz</tspan></text>
<text transform="translate(264.67,117.9) scale(1.0304,1)" fill="#000"  xml:space="preserve"><tspan font-family="Liberation Sans" font-size="13.4">RAPTOR,</tspan></text>
<text transform="translate(328.6,117.9) scale(1.2285,1)" fill="#000"  xml:space="preserve"><tspan font-family="Liberation Sans" font-size="13.4">Ω</tspan></text>
<text transform="translate(340.47,119.6) scale(1.1473,1)" fill="#000"  xml:space="preserve"><tspan font-family="Liberation Sans" font-size="9.7" font-style="italic">star</tspan></text>
<text transform="translate(362.4,117.9) scale(1.3824,1)" fill="#000"  xml:space="preserve"><tspan font-family="Liberation Sans" font-size="13.4">=</tspan></text>
<text transform="translate(377.66,117.9) scale(1.1123,1)" fill="#000"  xml:space="preserve"><tspan font-family="Liberation Sans" font-size="13.4">400Hz</tspan></text>
<text transform="translate(265.49,138.2) scale(1.0197,1)" fill="#000"  xml:space="preserve"><tspan font-family="Liberation Sans" font-size="13.4">XPSI,</tspan></text>
<text transform="translate(303.64,138.2) scale(1.1609,1)" fill="#000"  xml:space="preserve"><tspan font-family="Liberation Sans" font-size="13.4">Ω</tspan></text>
<text transform="translate(314.77,139.9) scale(1.1170,1)" fill="#000"  xml:space="preserve"><tspan font-family="Liberation Sans" font-size="9.7" font-style="italic">star</tspan></text>
<text transform="translate(336.7,138.2) scale(1.3824,1)" fill="#000"  xml:space="preserve"><tspan font-family="Liberation Sans" font-size="13.4">=</tspan></text>
<text transform="translate(352.06,138.2) scale(1.1176,1)" fill="#000"  xml:space="preserve"><tspan font-family="Liberation Sans" font-size="13.4">400Hz</tspan></text>
<rect x="407.5" y="336.2" width="140.2" height="45.1" rx="3" fill="#ffffff" stroke="#cccccc" stroke-width="1.1" fill-opacity="0.8"/>
<line x1="413" y1="347.4" x2="422.7" y2="347.4" stroke="#1f77b4" stroke-width="2.7" />
<line x1="427.4" y1="347.4" x2="437.2" y2="347.4" stroke="#1f77b4" stroke-width="2.7" />
<line x1="413" y1="367.2" x2="422.7" y2="367.2" stroke="#d62728" stroke-width="2.7" />
<line x1="427.4" y1="367.2" x2="437.2" y2="367.2" stroke="#d62728" stroke-width="2.7" />
<text transform="translate(451.34,352) scale(1.1609,1)" fill="#000"  xml:space="preserve"><tspan font-family="Liberation Sans" font-size="13.4">Ω</tspan></text>
<text transform="translate(462.47,353.7) scale(1.1170,1)" fill="#000"  xml:space="preserve"><tspan font-family="Liberation Sans" font-size="9.7" font-style="italic">star</tspan></text>
<text transform="translate(484.4,352) scale(1.3824,1)" fill="#000"  xml:space="preserve"><tspan font-family="Liberation Sans" font-size="13.4">=</tspan></text>
<text transform="translate(498.98,352) scale(1.0975,1)" fill="#000"  xml:space="preserve"><tspan font-family="Liberation Sans" font-size="13.4">1Hz</tspan></text>
<text transform="translate(451.34,371.8) scale(1.1609,1)" fill="#000"  xml:space="preserve"><tspan font-family="Liberation Sans" font-size="13.4">Ω</tspan></text>
<text transform="translate(462.47,373.5) scale(1.1170,1)" fill="#000"  xml:space="preserve"><tspan font-family="Liberation Sans" font-size="9.7" font-style="italic">star</tspan></text>
<text transform="translate(484.4,371.8) scale(1.3824,1)" fill="#000"  xml:space="preserve"><tspan font-family="Liberation Sans" font-size="13.4">=</tspan></text>
<text transform="translate(499.76,371.8) scale(1.1176,1)" fill="#000"  xml:space="preserve"><tspan font-family="Liberation Sans" font-size="13.4">400Hz</tspan></text>
<clipPath id="cmb"><rect x="695.6" y="66.5" width="450.9" height="257.5"/></clipPath>
<clipPath id="ceb"><rect x="695.6" y="334.8" width="450.9" height="171.8"/></clipPath>
<line x1="785.78" y1="66.5" x2="785.78" y2="324" stroke="#d9d9d9" stroke-width="1.1" stroke-dasharray="4.1 1.8" />
<line x1="875.96" y1="66.5" x2="875.96" y2="324" stroke="#d9d9d9" stroke-width="1.1" stroke-dasharray="4.1 1.8" />
<line x1="966.14" y1="66.5" x2="966.14" y2="324" stroke="#d9d9d9" stroke-width="1.1" stroke-dasharray="4.1 1.8" />
<line x1="1056.32" y1="66.5" x2="1056.32" y2="324" stroke="#d9d9d9" stroke-width="1.1" stroke-dasharray="4.1 1.8" />
<line x1="695.6" y1="308.8" x2="1146.5" y2="308.8" stroke="#d9d9d9" stroke-width="1.1" stroke-dasharray="4.1 1.8" />
<line x1="695.6" y1="275.8" x2="1146.5" y2="275.8" stroke="#d9d9d9" stroke-width="1.1" stroke-dasharray="4.1 1.8" />
<line x1="695.6" y1="242.8" x2="1146.5" y2="242.8" stroke="#d9d9d9" stroke-width="1.1" stroke-dasharray="4.1 1.8" />
<line x1="695.6" y1="209.8" x2="1146.5" y2="209.8" stroke="#d9d9d9" stroke-width="1.1" stroke-dasharray="4.1 1.8" />
<line x1="695.6" y1="176.8" x2="1146.5" y2="176.8" stroke="#d9d9d9" stroke-width="1.1" stroke-dasharray="4.1 1.8" />
<line x1="695.6" y1="143.8" x2="1146.5" y2="143.8" stroke="#d9d9d9" stroke-width="1.1" stroke-dasharray="4.1 1.8" />
<line x1="695.6" y1="110.8" x2="1146.5" y2="110.8" stroke="#d9d9d9" stroke-width="1.1" stroke-dasharray="4.1 1.8" />
<line x1="695.6" y1="77.8" x2="1146.5" y2="77.8" stroke="#d9d9d9" stroke-width="1.1" stroke-dasharray="4.1 1.8" />
<line x1="785.78" y1="334.8" x2="785.78" y2="506.6" stroke="#d9d9d9" stroke-width="1.1" stroke-dasharray="4.1 1.8" />
<line x1="875.96" y1="334.8" x2="875.96" y2="506.6" stroke="#d9d9d9" stroke-width="1.1" stroke-dasharray="4.1 1.8" />
<line x1="966.14" y1="334.8" x2="966.14" y2="506.6" stroke="#d9d9d9" stroke-width="1.1" stroke-dasharray="4.1 1.8" />
<line x1="1056.32" y1="334.8" x2="1056.32" y2="506.6" stroke="#d9d9d9" stroke-width="1.1" stroke-dasharray="4.1 1.8" />
<line x1="695.6" y1="463.65" x2="1146.5" y2="463.65" stroke="#d9d9d9" stroke-width="1.1" stroke-dasharray="4.1 1.8" />
<line x1="695.6" y1="420.7" x2="1146.5" y2="420.7" stroke="#d9d9d9" stroke-width="1.1" stroke-dasharray="4.1 1.8" />
<line x1="695.6" y1="377.75" x2="1146.5" y2="377.75" stroke="#d9d9d9" stroke-width="1.1" stroke-dasharray="4.1 1.8" />
<path d="M695.6 90.01 L697.11 91.13 L698.62 92.29 L700.12 93.48 L701.63 94.72 L703.14 95.98 L704.65 97.29 L706.16 98.62 L707.66 99.99 L709.17 101.39 L710.68 102.83 L712.19 104.29 L713.7 105.78 L715.2 107.31 L716.71 108.86 L718.22 110.44 L719.73 112.04 L721.24 113.68 L722.74 115.33 L724.25 117.02 L725.76 118.72 L727.27 120.45 L728.78 122.2 L730.28 123.98 L731.79 125.77 L733.3 127.58 L734.81 129.42 L736.32 131.27 L737.82 133.14 L739.33 135.02 L740.84 136.93 L742.35 138.84 L743.86 140.78 L745.36 142.72 L746.87 144.68 L748.38 146.65 L749.89 148.63 L751.4 150.63 L752.91 152.63 L754.41 154.64 L755.92 156.66 L757.43 158.69 L758.94 160.72 L760.45 162.77 L761.95 164.81 L763.46 166.87 L764.97 168.93 L766.48 170.99 L767.99 173.05 L769.49 175.12 L771 177.19 L772.51 179.27 L774.02 181.34 L775.53 183.41 L777.03 185.49 L778.54 187.56 L780.05 189.63 L781.56 191.7 L783.07 193.77 L784.57 195.83 L786.08 197.89 L787.59 199.94 L789.1 201.99 L790.61 204.04 L792.11 206.07 L793.62 208.1 L795.13 210.13 L796.64 212.14 L798.15 214.15 L799.65 216.14 L801.16 218.13 L802.67 220.1 L804.18 222.07 L805.69 224.02 L807.19 225.96 L808.7 227.89 L810.21 229.8 L811.72 231.7 L813.23 233.59 L814.73 235.47 L816.24 237.33 L817.75 239.18 L819.26 241.01 L820.77 242.83 L822.27 244.64 L823.78 246.43 L825.29 248.21 L826.8 249.97 L828.31 251.71 L829.81 253.44 L831.32 255.15 L832.83 256.84 L834.34 258.52 L835.85 260.19 L837.35 261.83 L838.86 263.46 L840.37 265.07 L841.88 266.66 L843.39 268.23 L844.89 269.79 L846.4 271.32 L847.91 272.84 L849.42 274.34 L850.93 275.81 L852.43 277.27 L853.94 278.71 L855.45 280.13 L856.96 281.53 L858.47 282.9 L859.97 284.26 L861.48 285.59 L862.99 286.9 L864.5 288.19 L866.01 289.46 L867.52 290.7 L869.02 291.92 L870.53 293.11 L872.04 294.27 L873.55 295.41 L875.06 296.52 L876.56 297.6 L878.07 298.65 L879.58 299.66 L881.09 300.65 L882.6 301.6 L884.1 302.53 L885.61 303.41 L887.12 304.26 L888.63 305.08 L890.14 305.86 L891.64 306.6 L893.15 307.31 L894.66 307.97 L896.17 308.6 L897.68 309.18 L899.18 309.72 L900.69 310.22 L902.2 310.68 L903.71 311.1 L905.22 311.46 L906.72 311.79 L908.23 312.07 L909.74 312.3 L911.25 312.48 L912.76 312.61 L914.26 312.69 L915.77 312.73 L917.28 312.71 L918.79 312.64 L920.3 312.52 L921.8 312.34 L923.31 312.11 L924.82 311.82 L926.33 311.48 L927.84 311.08 L929.34 310.63 L930.85 310.11 L932.36 309.53 L933.87 308.9 L935.38 308.2 L936.88 307.45 L938.39 306.63 L939.9 305.75 L941.41 304.81 L942.92 303.81 L944.42 302.75 L945.93 301.63 L947.44 300.46 L948.95 299.23 L950.46 297.94 L951.96 296.6 L953.47 295.21 L954.98 293.76 L956.49 292.26 L958 290.7 L959.5 289.09 L961.01 287.44 L962.52 285.73 L964.03 283.97 L965.54 282.16 L967.04 280.31 L968.55 278.4 L970.06 276.45 L971.57 274.46 L973.08 272.42 L974.58 270.33 L976.09 268.2 L977.6 266.02 L979.11 263.8 L980.62 261.54 L982.13 259.24 L983.63 256.9 L985.14 254.52 L986.65 252.1 L988.16 249.64 L989.67 247.14 L991.17 244.6 L992.68 242.03 L994.19 239.42 L995.7 236.78 L997.21 234.11 L998.71 231.4 L1000.22 228.67 L1001.73 225.92 L1003.24 223.14 L1004.75 220.34 L1006.25 217.52 L1007.76 214.69 L1009.27 211.84 L1010.78 208.98 L1012.29 206.11 L1013.79 203.23 L1015.3 200.34 L1016.81 197.45 L1018.32 194.56 L1019.83 191.67 L1021.33 188.78 L1022.84 185.89 L1024.35 183.01 L1025.86 180.14 L1027.37 177.28 L1028.87 174.43 L1030.38 171.6 L1031.89 168.78 L1033.4 165.98 L1034.91 163.21 L1036.41 160.45 L1037.92 157.72 L1039.43 155.02 L1040.94 152.35 L1042.45 149.7 L1043.95 147.09 L1045.46 144.51 L1046.97 141.96 L1048.48 139.44 L1049.99 136.96 L1051.49 134.52 L1053 132.11 L1054.51 129.74 L1056.02 127.41 L1057.53 125.12 L1059.03 122.87 L1060.54 120.67 L1062.05 118.51 L1063.56 116.39 L1065.07 114.33 L1066.57 112.3 L1068.08 110.33 L1069.59 108.41 L1071.1 106.54 L1072.61 104.72 L1074.11 102.95 L1075.62 101.24 L1077.13 99.58 L1078.64 97.98 L1080.15 96.44 L1081.65 94.95 L1083.16 93.53 L1084.67 92.17 L1086.18 90.87 L1087.69 89.63 L1089.19 88.46 L1090.7 87.35 L1092.21 86.3 L1093.72 85.32 L1095.23 84.4 L1096.74 83.55 L1098.24 82.75 L1099.75 82.02 L1101.26 81.36 L1102.77 80.76 L1104.28 80.22 L1105.78 79.75 L1107.29 79.33 L1108.8 78.98 L1110.31 78.7 L1111.82 78.48 L1113.32 78.32 L1114.83 78.22 L1116.34 78.19 L1117.85 78.22 L1119.36 78.31 L1120.86 78.47 L1122.37 78.69 L1123.88 78.97 L1125.39 79.31 L1126.9 79.72 L1128.4 80.19 L1129.91 80.72 L1131.42 81.31 L1132.93 81.97 L1134.44 82.69 L1135.94 83.48 L1137.45 84.32 L1138.96 85.23 L1140.47 86.2 L1141.98 87.23 L1143.48 88.32 L1144.99 89.48 L1146.5 90.7" fill="none" stroke="#ff7f0e" stroke-width="2.1" stroke-linejoin="round" clip-path="url(#cmb)" />
<path d="M695.6 90.01 L697.11 91.13 L698.62 92.29 L700.12 93.48 L701.63 94.72 L703.14 95.98 L704.65 97.29 L706.16 98.62 L707.66 99.99 L709.17 101.39 L710.68 102.83 L712.19 104.29 L713.7 105.78 L715.2 107.31 L716.71 108.86 L718.22 110.44 L719.73 112.04 L721.24 113.68 L722.74 115.33 L724.25 117.02 L725.76 118.72 L727.27 120.45 L728.78 122.2 L730.28 123.98 L731.79 125.77 L733.3 127.58 L734.81 129.42 L736.32 131.27 L737.82 133.14 L739.33 135.02 L740.84 136.93 L742.35 138.84 L743.86 140.78 L745.36 142.72 L746.87 144.68 L748.38 146.65 L749.89 148.63 L751.4 150.63 L752.91 152.63 L754.41 154.64 L755.92 156.66 L757.43 158.69 L758.94 160.72 L760.45 162.77 L761.95 164.81 L763.46 166.87 L764.97 168.93 L766.48 170.99 L767.99 173.05 L769.49 175.12 L771 177.19 L772.51 179.27 L774.02 181.34 L775.53 183.41 L777.03 185.49 L778.54 187.56 L780.05 189.63 L781.56 191.7 L783.07 193.77 L784.57 195.83 L786.08 197.89 L787.59 199.94 L789.1 201.99 L790.61 204.04 L792.11 206.07 L793.62 208.1 L795.13 210.13 L796.64 212.14 L798.15 214.15 L799.65 216.14 L801.16 218.13 L802.67 220.1 L804.18 222.07 L805.69 224.02 L807.19 225.96 L808.7 227.89 L810.21 229.8 L811.72 231.7 L813.23 233.59 L814.73 235.47 L816.24 237.33 L817.75 239.18 L819.26 241.01 L820.77 242.83 L822.27 244.64 L823.78 246.43 L825.29 248.21 L826.8 249.97 L828.31 251.71 L829.81 253.44 L831.32 255.15 L832.83 256.84 L834.34 258.52 L835.85 260.19 L837.35 261.83 L838.86 263.46 L840.37 265.07 L841.88 266.66 L843.39 268.23 L844.89 269.79 L846.4 271.32 L847.91 272.84 L849.42 274.34 L850.93 275.81 L852.43 277.27 L853.94 278.71 L855.45 280.13 L856.96 281.53 L858.47 282.9 L859.97 284.26 L861.48 285.59 L862.99 286.9 L864.5 288.19 L866.01 289.46 L867.52 290.7 L869.02 291.92 L870.53 293.11 L872.04 294.27 L873.55 295.41 L875.06 296.52 L876.56 297.6 L878.07 298.65 L879.58 299.66 L881.09 300.65 L882.6 301.6 L884.1 302.53 L885.61 303.41 L887.12 304.26 L888.63 305.08 L890.14 305.86 L891.64 306.6 L893.15 307.31 L894.66 307.97 L896.17 308.6 L897.68 309.18 L899.18 309.72 L900.69 310.22 L902.2 310.68 L903.71 311.1 L905.22 311.46 L906.72 311.79 L908.23 312.07 L909.74 312.3 L911.25 312.48 L912.76 312.61 L914.26 312.69 L915.77 312.73 L917.28 312.71 L918.79 312.64 L920.3 312.52 L921.8 312.34 L923.31 312.11 L924.82 311.82 L926.33 311.48 L927.84 311.08 L929.34 310.63 L930.85 310.11 L932.36 309.53 L933.87 308.9 L935.38 308.2 L936.88 307.45 L938.39 306.63 L939.9 305.75 L941.41 304.81 L942.92 303.81 L944.42 302.75 L945.93 301.63 L947.44 300.46 L948.95 299.23 L950.46 297.94 L951.96 296.6 L953.47 295.21 L954.98 293.76 L956.49 292.26 L958 290.7 L959.5 289.09 L961.01 287.44 L962.52 285.73 L964.03 283.97 L965.54 282.16 L967.04 280.31 L968.55 278.4 L970.06 276.45 L971.57 274.46 L973.08 272.42 L974.58 270.33 L976.09 268.2 L977.6 266.02 L979.11 263.8 L980.62 261.54 L982.13 259.24 L983.63 256.9 L985.14 254.52 L986.65 252.1 L988.16 249.64 L989.67 247.14 L991.17 244.6 L992.68 242.03 L994.19 239.42 L995.7 236.78 L997.21 234.11 L998.71 231.4 L1000.22 228.67 L1001.73 225.92 L1003.24 223.14 L1004.75 220.34 L1006.25 217.52 L1007.76 214.69 L1009.27 211.84 L1010.78 208.98 L1012.29 206.11 L1013.79 203.23 L1015.3 200.34 L1016.81 197.45 L1018.32 194.56 L1019.83 191.67 L1021.33 188.78 L1022.84 185.89 L1024.35 183.01 L1025.86 180.14 L1027.37 177.28 L1028.87 174.43 L1030.38 171.6 L1031.89 168.78 L1033.4 165.98 L1034.91 163.21 L1036.41 160.45 L1037.92 157.72 L1039.43 155.02 L1040.94 152.35 L1042.45 149.7 L1043.95 147.09 L1045.46 144.51 L1046.97 141.96 L1048.48 139.44 L1049.99 136.96 L1051.49 134.52 L1053 132.11 L1054.51 129.74 L1056.02 127.41 L1057.53 125.12 L1059.03 122.87 L1060.54 120.67 L1062.05 118.51 L1063.56 116.39 L1065.07 114.33 L1066.57 112.3 L1068.08 110.33 L1069.59 108.41 L1071.1 106.54 L1072.61 104.72 L1074.11 102.95 L1075.62 101.24 L1077.13 99.58 L1078.64 97.98 L1080.15 96.44 L1081.65 94.95 L1083.16 93.53 L1084.67 92.17 L1086.18 90.87 L1087.69 89.63 L1089.19 88.46 L1090.7 87.35 L1092.21 86.3 L1093.72 85.32 L1095.23 84.4 L1096.74 83.55 L1098.24 82.75 L1099.75 82.02 L1101.26 81.36 L1102.77 80.76 L1104.28 80.22 L1105.78 79.75 L1107.29 79.33 L1108.8 78.98 L1110.31 78.7 L1111.82 78.48 L1113.32 78.32 L1114.83 78.22 L1116.34 78.19 L1117.85 78.22 L1119.36 78.31 L1120.86 78.47 L1122.37 78.69 L1123.88 78.97 L1125.39 79.31 L1126.9 79.72 L1128.4 80.19 L1129.91 80.72 L1131.42 81.31 L1132.93 81.97 L1134.44 82.69 L1135.94 83.48 L1137.45 84.32 L1138.96 85.23 L1140.47 86.2 L1141.98 87.23 L1143.48 88.32 L1144.99 89.48 L1146.5 90.7" fill="none" stroke="#000" stroke-width="2.1" stroke-dasharray="14.2 10.4" stroke-linejoin="round" clip-path="url(#cmb)" />
<path d="M695.6 86.57 L697.11 86.63 L698.62 86.74 L700.12 86.91 L701.63 87.12 L703.14 87.39 L704.65 87.71 L706.16 88.08 L707.66 88.5 L709.17 88.97 L710.68 89.48 L712.19 90.05 L713.7 90.66 L715.2 91.32 L716.71 92.02 L718.22 92.77 L719.73 93.57 L721.24 94.41 L722.74 95.3 L724.25 96.23 L725.76 97.2 L727.27 98.22 L728.78 99.28 L730.28 100.38 L731.79 101.52 L733.3 102.7 L734.81 103.92 L736.32 105.18 L737.82 106.48 L739.33 107.82 L740.84 109.19 L742.35 110.61 L743.86 112.06 L745.36 113.54 L746.87 115.07 L748.38 116.62 L749.89 118.22 L751.4 119.84 L752.91 121.5 L754.41 123.2 L755.92 124.92 L757.43 126.68 L758.94 128.47 L760.45 130.29 L761.95 132.14 L763.46 134.02 L764.97 135.93 L766.48 137.87 L767.99 139.84 L769.49 141.83 L771 143.85 L772.51 145.89 L774.02 147.96 L775.53 150.05 L777.03 152.17 L778.54 154.3 L780.05 156.45 L781.56 158.63 L783.07 160.82 L784.57 163.02 L786.08 165.25 L787.59 167.48 L789.1 169.73 L790.61 172 L792.11 174.28 L793.62 176.56 L795.13 178.86 L796.64 181.16 L798.15 183.48 L799.65 185.8 L801.16 188.13 L802.67 190.46 L804.18 192.79 L805.69 195.13 L807.19 197.47 L808.7 199.81 L810.21 202.15 L811.72 204.49 L813.23 206.83 L814.73 209.16 L816.24 211.49 L817.75 213.82 L819.26 216.14 L820.77 218.45 L822.27 220.75 L823.78 223.05 L825.29 225.33 L826.8 227.61 L828.31 229.87 L829.81 232.12 L831.32 234.36 L832.83 236.59 L834.34 238.79 L835.85 240.99 L837.35 243.16 L838.86 245.32 L840.37 247.45 L841.88 249.57 L843.39 251.66 L844.89 253.74 L846.4 255.79 L847.91 257.81 L849.42 259.82 L850.93 261.79 L852.43 263.74 L853.94 265.66 L855.45 267.56 L856.96 269.42 L858.47 271.25 L859.97 273.05 L861.48 274.82 L862.99 276.56 L864.5 278.26 L866.01 279.92 L867.52 281.55 L869.02 283.15 L870.53 284.7 L872.04 286.22 L873.55 287.71 L875.06 289.15 L876.56 290.55 L878.07 291.92 L879.58 293.24 L881.09 294.52 L882.6 295.76 L884.1 296.96 L885.61 298.11 L887.12 299.22 L888.63 300.28 L890.14 301.3 L891.64 302.27 L893.15 303.2 L894.66 304.08 L896.17 304.92 L897.68 305.71 L899.18 306.45 L900.69 307.14 L902.2 307.78 L903.71 308.38 L905.22 308.93 L906.72 309.43 L908.23 309.88 L909.74 310.28 L911.25 310.63 L912.76 310.93 L914.26 311.18 L915.77 311.37 L917.28 311.52 L918.79 311.61 L920.3 311.65 L921.8 311.64 L923.31 311.58 L924.82 311.46 L926.33 311.3 L927.84 311.08 L929.34 310.81 L930.85 310.49 L932.36 310.12 L933.87 309.7 L935.38 309.23 L936.88 308.72 L938.39 308.15 L939.9 307.54 L941.41 306.88 L942.92 306.18 L944.42 305.43 L945.93 304.63 L947.44 303.79 L948.95 302.9 L950.46 301.97 L951.96 301 L953.47 299.98 L954.98 298.92 L956.49 297.82 L958 296.68 L959.5 295.49 L961.01 294.27 L962.52 293 L964.03 291.7 L965.54 290.35 L967.04 288.97 L968.55 287.55 L970.06 286.09 L971.57 284.59 L973.08 283.06 L974.58 281.48 L976.09 279.88 L977.6 278.24 L979.11 276.56 L980.62 274.85 L982.13 273.1 L983.63 271.32 L985.14 269.51 L986.65 267.66 L988.16 265.79 L989.67 263.88 L991.17 261.94 L992.68 259.97 L994.19 257.97 L995.7 255.94 L997.21 253.89 L998.71 251.82 L1000.22 249.72 L1001.73 247.59 L1003.24 245.45 L1004.75 243.28 L1006.25 241.1 L1007.76 238.89 L1009.27 236.67 L1010.78 234.43 L1012.29 232.18 L1013.79 229.91 L1015.3 227.64 L1016.81 225.34 L1018.32 223.04 L1019.83 220.73 L1021.33 218.41 L1022.84 216.08 L1024.35 213.74 L1025.86 211.4 L1027.37 209.06 L1028.87 206.71 L1030.38 204.36 L1031.89 202.01 L1033.4 199.66 L1034.91 197.31 L1036.41 194.97 L1037.92 192.63 L1039.43 190.29 L1040.94 187.95 L1042.45 185.63 L1043.95 183.31 L1045.46 181 L1046.97 178.7 L1048.48 176.41 L1049.99 174.14 L1051.49 171.87 L1053 169.62 L1054.51 167.38 L1056.02 165.15 L1057.53 162.94 L1059.03 160.74 L1060.54 158.57 L1062.05 156.41 L1063.56 154.26 L1065.07 152.14 L1066.57 150.04 L1068.08 147.95 L1069.59 145.89 L1071.1 143.85 L1072.61 141.84 L1074.11 139.84 L1075.62 137.88 L1077.13 135.93 L1078.64 134.02 L1080.15 132.13 L1081.65 130.27 L1083.16 128.44 L1084.67 126.63 L1086.18 124.86 L1087.69 123.12 L1089.19 121.41 L1090.7 119.73 L1092.21 118.08 L1093.72 116.47 L1095.23 114.9 L1096.74 113.36 L1098.24 111.85 L1099.75 110.38 L1101.26 108.95 L1102.77 107.56 L1104.28 106.21 L1105.78 104.89 L1107.29 103.62 L1108.8 102.39 L1110.31 101.19 L1111.82 100.04 L1113.32 98.93 L1114.83 97.86 L1116.34 96.84 L1117.85 95.86 L1119.36 94.92 L1120.86 94.03 L1122.37 93.18 L1123.88 92.39 L1125.39 91.63 L1126.9 90.93 L1128.4 90.27 L1129.91 89.66 L1131.42 89.1 L1132.93 88.59 L1134.44 88.13 L1135.94 87.72 L1137.45 87.37 L1138.96 87.06 L1140.47 86.81 L1141.98 86.61 L1143.48 86.46 L1144.99 86.37 L1146.5 86.34" fill="none" stroke="#2e8b57" stroke-width="2.1" stroke-linejoin="round" clip-path="url(#cmb)" />
<path d="M695.6 88.67 L697.11 88.72 L698.62 88.82 L700.12 88.96 L701.63 89.15 L703.14 89.37 L704.65 89.64 L706.16 89.96 L707.66 90.31 L709.17 90.71 L710.68 91.15 L712.19 91.64 L713.7 92.17 L715.2 92.75 L716.71 93.37 L718.22 94.03 L719.73 94.74 L721.24 95.5 L722.74 96.3 L724.25 97.15 L725.76 98.04 L727.27 98.99 L728.78 99.97 L730.28 101 L731.79 102.08 L733.3 103.2 L734.81 104.37 L736.32 105.58 L737.82 106.83 L739.33 108.13 L740.84 109.46 L742.35 110.84 L743.86 112.26 L745.36 113.72 L746.87 115.22 L748.38 116.75 L749.89 118.33 L751.4 119.94 L752.91 121.58 L754.41 123.26 L755.92 124.98 L757.43 126.73 L758.94 128.51 L760.45 130.32 L761.95 132.17 L763.46 134.04 L764.97 135.95 L766.48 137.88 L767.99 139.85 L769.49 141.84 L771 143.86 L772.51 145.9 L774.02 147.97 L775.53 150.06 L777.03 152.17 L778.54 154.3 L780.05 156.46 L781.56 158.63 L783.07 160.82 L784.57 163.02 L786.08 165.25 L787.59 167.48 L789.1 169.73 L790.61 172 L792.11 174.28 L793.62 176.56 L795.13 178.86 L796.64 181.16 L798.15 183.48 L799.65 185.8 L801.16 188.13 L802.67 190.46 L804.18 192.79 L805.69 195.13 L807.19 197.47 L808.7 199.81 L810.21 202.15 L811.72 204.49 L813.23 206.83 L814.73 209.16 L816.24 211.49 L817.75 213.82 L819.26 216.14 L820.77 218.45 L822.27 220.75 L823.78 223.05 L825.29 225.33 L826.8 227.61 L828.31 229.87 L829.81 232.12 L831.32 234.36 L832.83 236.59 L834.34 238.79 L835.85 240.99 L837.35 243.16 L838.86 245.32 L840.37 247.45 L841.88 249.57 L843.39 251.66 L844.89 253.74 L846.4 255.79 L847.91 257.81 L849.42 259.82 L850.93 261.79 L852.43 263.74 L853.94 265.66 L855.45 267.56 L856.96 269.42 L858.47 271.25 L859.97 273.05 L861.48 274.82 L862.99 276.56 L864.5 278.26 L866.01 279.92 L867.52 281.55 L869.02 283.15 L870.53 284.7 L872.04 286.22 L873.55 287.71 L875.06 289.15 L876.56 290.55 L878.07 291.92 L879.58 293.24 L881.09 294.52 L882.6 295.76 L884.1 296.96 L885.61 298.11 L887.12 299.22 L888.63 300.28 L890.14 301.3 L891.64 302.27 L893.15 303.2 L894.66 304.08 L896.17 304.92 L897.68 305.71 L899.18 306.45 L900.69 307.14 L902.2 307.78 L903.71 308.38 L905.22 308.93 L906.72 309.43 L908.23 309.88 L909.74 310.28 L911.25 310.63 L912.76 310.93 L914.26 311.18 L915.77 311.37 L917.28 311.52 L918.79 311.61 L920.3 311.65 L921.8 311.64 L923.31 311.58 L924.82 311.46 L926.33 311.3 L927.84 311.08 L929.34 310.81 L930.85 310.49 L932.36 310.12 L933.87 309.7 L935.38 309.23 L936.88 308.72 L938.39 308.15 L939.9 307.54 L941.41 306.88 L942.92 306.18 L944.42 305.43 L945.93 304.63 L947.44 303.79 L948.95 302.9 L950.46 301.97 L951.96 301 L953.47 299.98 L954.98 298.92 L956.49 297.82 L958 296.68 L959.5 295.49 L961.01 294.27 L962.52 293 L964.03 291.7 L965.54 290.35 L967.04 288.97 L968.55 287.55 L970.06 286.09 L971.57 284.59 L973.08 283.06 L974.58 281.48 L976.09 279.88 L977.6 278.24 L979.11 276.56 L980.62 274.85 L982.13 273.1 L983.63 271.32 L985.14 269.51 L986.65 267.66 L988.16 265.79 L989.67 263.88 L991.17 261.94 L992.68 259.97 L994.19 257.97 L995.7 255.94 L997.21 253.89 L998.71 251.82 L1000.22 249.72 L1001.73 247.59 L1003.24 245.45 L1004.75 243.28 L1006.25 241.1 L1007.76 238.89 L1009.27 236.67 L1010.78 234.43 L1012.29 232.18 L1013.79 229.91 L1015.3 227.64 L1016.81 225.34 L1018.32 223.04 L1019.83 220.73 L1021.33 218.41 L1022.84 216.08 L1024.35 213.74 L1025.86 211.4 L1027.37 209.06 L1028.87 206.71 L1030.38 204.36 L1031.89 202.01 L1033.4 199.66 L1034.91 197.31 L1036.41 194.97 L1037.92 192.63 L1039.43 190.29 L1040.94 187.95 L1042.45 185.63 L1043.95 183.31 L1045.46 181 L1046.97 178.7 L1048.48 176.41 L1049.99 174.14 L1051.49 171.87 L1053 169.62 L1054.51 167.38 L1056.02 165.15 L1057.53 162.94 L1059.03 160.75 L1060.54 158.57 L1062.05 156.41 L1063.56 154.27 L1065.07 152.14 L1066.57 150.04 L1068.08 147.96 L1069.59 145.9 L1071.1 143.86 L1072.61 141.85 L1074.11 139.86 L1075.62 137.89 L1077.13 135.95 L1078.64 134.04 L1080.15 132.16 L1081.65 130.3 L1083.16 128.48 L1084.67 126.68 L1086.18 124.92 L1087.69 123.19 L1089.19 121.49 L1090.7 119.83 L1092.21 118.2 L1093.72 116.61 L1095.23 115.06 L1096.74 113.55 L1098.24 112.07 L1099.75 110.64 L1101.26 109.25 L1102.77 107.9 L1104.28 106.59 L1105.78 105.33 L1107.29 104.11 L1108.8 102.94 L1110.31 101.81 L1111.82 100.73 L1113.32 99.69 L1114.83 98.7 L1116.34 97.76 L1117.85 96.87 L1119.36 96.02 L1120.86 95.22 L1122.37 94.47 L1123.88 93.76 L1125.39 93.1 L1126.9 92.49 L1128.4 91.93 L1129.91 91.41 L1131.42 90.93 L1132.93 90.5 L1134.44 90.12 L1135.94 89.78 L1137.45 89.49 L1138.96 89.23 L1140.47 89.03 L1141.98 88.86 L1143.48 88.74 L1144.99 88.67 L1146.5 88.64" fill="none" stroke="#ff0000" stroke-width="2.1" stroke-dasharray="14.7 10.0" stroke-linejoin="round" clip-path="url(#cmb)" />
<path d="M695.5 441.1 L713.3 428 L724.1 435.7 L734.9 431.1 L741.9 428.4 L752.7 431.8 L758.9 424.9 L768.1 422.3 L775.9 414.1 L780.5 421.3 L786.7 419.5 L794.4 409.8 L802.1 406.7 L809.4 395.2 L827.4 413.3 L844.4 396.3 L850.6 402.5 L856 394.5 L860.6 398.6 L867.5 382.1 L871.4 383.2 L879.1 362 L882.2 362.7 L889.9 388.9 L900.8 367.7 L906.9 392.5 L912.3 373.5 L915 384 L924.3 408.7 L936.6 367.7 L942 366.2 L948.2 384.7 L959.8 367 L964.4 367.7 L970.6 388.6 L981.4 401 L986.8 404 L996.9 394.8 L1003 394 L1013.8 404 L1020 407.9 L1026.2 404.8 L1033.6 392.5 L1038 407.1 L1044.2 402.5 L1055 417.2 L1065.1 410.2 L1068.9 413.3 L1072.8 421 L1077.4 429.5 L1089 430.3 L1093.6 425.7 L1104.4 431.8 L1112.2 430.3 L1118.3 439.6 L1123.8 434.9 L1129.2 436.5 L1140 430.3 L1146.5 440" fill="none" stroke="#1f77b4" stroke-width="2.7" stroke-dasharray="10.3 4.5" stroke-linejoin="round" clip-path="url(#ceb)" />
<path d="M695.5 468.9 L701.7 477.4 L707.1 463.5 L711 468.1 L718.7 471.2 L724.1 457.3 L728.7 467.4 L734.9 477.4 L740.3 473.5 L747.3 474.3 L752.7 468.9 L758.9 454.2 L763.5 461.2 L769.7 447.3 L775.9 456.6 L782 461.2 L788.2 452.7 L799 433.4 L803.7 455 L808.9 447.3 L814.3 447.3 L821.2 477.4 L832.8 426.4 L838.2 492.8 L849.8 350.8 L854.4 377.8 L859 402.5 L866.8 431.8 L872.2 499 L879.1 417.9 L884.5 404 L890.7 444.2 L894.6 439.6 L903.8 330 L909.5 320 L915.8 320 L924 493.6 L928.1 320 L935.1 339.2 L941.3 390.9 L946.7 356.2 L951.3 379.3 L959 515 L966 512 L969.8 391.7 L980.6 472.8 L986.8 433.4 L992.2 473.5 L1003.8 374.7 L1006.1 391.7 L1014.6 473.5 L1021.6 468.9 L1027 443.4 L1032.6 451.9 L1038 478.2 L1044.2 453.5 L1051.2 459.6 L1055 463.5 L1060.4 462.7 L1067.4 490.5 L1077.4 455 L1081.3 461.2 L1084.4 466.6 L1089.8 456.6 L1095.2 477.4 L1100.6 447.3 L1103.7 458.1 L1107.5 482.8 L1112.2 461.2 L1119.1 482.8 L1123.8 477.4 L1129.9 490.5 L1135.3 459.6 L1141.5 477.4 L1146.5 468.9" fill="none" stroke="#d62728" stroke-width="2.7" stroke-dasharray="10.3 4.5" stroke-linejoin="round" clip-path="url(#ceb)" />
<rect x="695.6" y="66.5" width="450.9" height="257.5" fill="none" stroke="#000" stroke-width="1.1"/>
<line x1="690.83" y1="308.8" x2="695.6" y2="308.8" stroke="#000" stroke-width="1.1" />
<text transform="translate(653.97,314.15) scale(1.0874,1)" fill="#000"  xml:space="preserve"><tspan font-family="Liberation Sans" font-size="15.19">0.02</tspan></text>
<line x1="690.83" y1="275.8" x2="695.6" y2="275.8" stroke="#000" stroke-width="1.1" />
<text transform="translate(653.98,281.15) scale(1.0752,1)" fill="#000"  xml:space="preserve"><tspan font-family="Liberation Sans" font-size="15.19">0.04</tspan></text>
<line x1="690.83" y1="242.8" x2="695.6" y2="242.8" stroke="#000" stroke-width="1.1" />
<text transform="translate(653.97,248.15) scale(1.0837,1)" fill="#000"  xml:space="preserve"><tspan font-family="Liberation Sans" font-size="15.19">0.06</tspan></text>
<line x1="690.83" y1="209.8" x2="695.6" y2="209.8" stroke="#000" stroke-width="1.1" />
<text transform="translate(653.97,215.15) scale(1.0834,1)" fill="#000"  xml:space="preserve"><tspan font-family="Liberation Sans" font-size="15.19">0.08</tspan></text>
<line x1="690.83" y1="176.8" x2="695.6" y2="176.8" stroke="#000" stroke-width="1.1" />
<text transform="translate(654.17,182.15) scale(1.0740,1)" fill="#000"  xml:space="preserve"><tspan font-family="Liberation Sans" font-size="15.19">0.10</tspan></text>
<line x1="690.83" y1="143.8" x2="695.6" y2="143.8" stroke="#000" stroke-width="1.1" />
<text transform="translate(654.17,149.15) scale(1.0805,1)" fill="#000"  xml:space="preserve"><tspan font-family="Liberation Sans" font-size="15.19">0.12</tspan></text>
<line x1="690.83" y1="110.8" x2="695.6" y2="110.8" stroke="#000" stroke-width="1.1" />
<text transform="translate(653.98,116.15) scale(1.0752,1)" fill="#000"  xml:space="preserve"><tspan font-family="Liberation Sans" font-size="15.19">0.14</tspan></text>
<line x1="690.83" y1="77.8" x2="695.6" y2="77.8" stroke="#000" stroke-width="1.1" />
<text transform="translate(653.97,83.15) scale(1.0837,1)" fill="#000"  xml:space="preserve"><tspan font-family="Liberation Sans" font-size="15.19">0.16</tspan></text>
<line x1="695.6" y1="324" x2="695.6" y2="328.77" stroke="#000" stroke-width="1.1" />
<line x1="785.78" y1="324" x2="785.78" y2="328.77" stroke="#000" stroke-width="1.1" />
<line x1="875.96" y1="324" x2="875.96" y2="328.77" stroke="#000" stroke-width="1.1" />
<line x1="966.14" y1="324" x2="966.14" y2="328.77" stroke="#000" stroke-width="1.1" />
<line x1="1056.32" y1="324" x2="1056.32" y2="328.77" stroke="#000" stroke-width="1.1" />
<line x1="1146.5" y1="324" x2="1146.5" y2="328.77" stroke="#000" stroke-width="1.1" />
<rect x="695.6" y="334.8" width="450.9" height="171.8" fill="none" stroke="#000" stroke-width="1.1"/>
<line x1="690.83" y1="506.6" x2="695.6" y2="506.6" stroke="#000" stroke-width="1.1" />
<text transform="translate(651.02,511.95) scale(1.1660,1)" fill="#000"  xml:space="preserve"><tspan font-family="Liberation Sans" font-size="15.19">−1.0</tspan></text>
<line x1="690.83" y1="463.65" x2="695.6" y2="463.65" stroke="#000" stroke-width="1.1" />
<text transform="translate(650.72,469) scale(1.1780,1)" fill="#000"  xml:space="preserve"><tspan font-family="Liberation Sans" font-size="15.19">−0.5</tspan></text>
<line x1="690.83" y1="420.7" x2="695.6" y2="420.7" stroke="#000" stroke-width="1.1" />
<text transform="translate(663.23,426.05) scale(1.0749,1)" fill="#000"  xml:space="preserve"><tspan font-family="Liberation Sans" font-size="15.19">0.0</tspan></text>
<line x1="690.83" y1="377.75" x2="695.6" y2="377.75" stroke="#000" stroke-width="1.1" />
<text transform="translate(663.33,383.1) scale(1.0724,1)" fill="#000"  xml:space="preserve"><tspan font-family="Liberation Sans" font-size="15.19">0.5</tspan></text>
<line x1="690.83" y1="334.8" x2="695.6" y2="334.8" stroke="#000" stroke-width="1.1" />
<text transform="translate(663.41,340.15) scale(1.0659,1)" fill="#000"  xml:space="preserve"><tspan font-family="Liberation Sans" font-size="15.19">1.0</tspan></text>
<line x1="695.6" y1="506.6" x2="695.6" y2="511.37" stroke="#000" stroke-width="1.1" />
<text transform="translate(684.31,526.85) scale(1.0700,1)" fill="#000"  xml:space="preserve"><tspan font-family="Liberation Sans" font-size="15.19">0.0</tspan></text>
<line x1="785.78" y1="506.6" x2="785.78" y2="511.37" stroke="#000" stroke-width="1.1" />
<text transform="translate(774.48,526.85) scale(1.0792,1)" fill="#000"  xml:space="preserve"><tspan font-family="Liberation Sans" font-size="15.19">0.2</tspan></text>
<line x1="875.96" y1="506.6" x2="875.96" y2="511.37" stroke="#000" stroke-width="1.1" />
<text transform="translate(864.67,526.85) scale(1.0621,1)" fill="#000"  xml:space="preserve"><tspan font-family="Liberation Sans" font-size="15.19">0.4</tspan></text>
<line x1="966.14" y1="506.6" x2="966.14" y2="511.37" stroke="#000" stroke-width="1.1" />
<text transform="translate(954.84,526.85) scale(1.0740,1)" fill="#000"  xml:space="preserve"><tspan font-family="Liberation Sans" font-size="15.19">0.6</tspan></text>
<line x1="1056.32" y1="506.6" x2="1056.32" y2="511.37" stroke="#000" stroke-width="1.1" />
<text transform="translate(1045.02,526.85) scale(1.0736,1)" fill="#000"  xml:space="preserve"><tspan font-family="Liberation Sans" font-size="15.19">0.8</tspan></text>
<line x1="1146.5" y1="506.6" x2="1146.5" y2="511.37" stroke="#000" stroke-width="1.1" />
<text transform="translate(1134.57,526.85) scale(1.1011,1)" fill="#000"  xml:space="preserve"><tspan font-family="Liberation Sans" font-size="15.19">1.0</tspan></text>
<text transform="translate(892.72,58.5) scale(0.9397,1)" font-family="Liberation Sans" font-size="16.98" fill="#000" xml:space="preserve">Δ</text>
<text transform="translate(903.33,58.53) scale(1.0105,1)" font-family="Liberation Sans" font-size="17.37" font-style="italic" fill="#000" xml:space="preserve">θ</text>
<text transform="translate(917.22,57.81) scale(1.6570,1)" font-family="Liberation Sans" font-size="13.29" fill="#000" xml:space="preserve">=</text>
<text transform="translate(933.77,58.53) scale(1.0657,1)" font-family="Liberation Sans" font-size="17.02" fill="#000" xml:space="preserve">5</text>
<text transform="translate(945.24,53.99) scale(1.4367,1)" font-family="Liberation Sans" font-size="8.74" fill="#000" xml:space="preserve">°</text>
<text transform="translate(870.36,547.6) scale(1.0100,1)" fill="#000"  xml:space="preserve"><tspan font-family="Liberation Sans" font-size="16.16">Phase</tspan></text>
<text transform="translate(923.16,547.6) scale(1.1724,1)" fill="#000"  xml:space="preserve"><tspan font-family="Liberation Sans" font-size="16.16">[</tspan></text>
<text transform="translate(928.74,547.6) scale(1.1702,1)" fill="#000"  xml:space="preserve"><tspan font-family="Liberation Sans" font-size="16.16">Φ</tspan></text>
<text transform="translate(942.75,547.6) scale(1.0751,1)" fill="#000"  xml:space="preserve"><tspan font-family="Liberation Sans" font-size="16.16">/</tspan></text>
<text transform="translate(947.3,547.6) scale(0.9442,1)" fill="#000"  xml:space="preserve"><tspan font-family="Liberation Sans" font-size="16.16">2</tspan></text>
<text transform="translate(954.81,547.6) scale(1.0911,1)" fill="#000"  xml:space="preserve"><tspan font-family="Liberation Sans" font-size="16.16" font-style="italic">π</tspan></text>
<text transform="translate(968.29,547.6) scale(1.1724,1)" fill="#000"  xml:space="preserve"><tspan font-family="Liberation Sans" font-size="16.16">]</tspan></text>
<text transform="translate(622.8,266.5) rotate(-90) scale(1.1036,1)" fill="#000"  xml:space="preserve"><tspan font-family="Liberation Sans" font-size="16.55">Bolometric Signal</tspan></text>
<text transform="translate(643.9,255.45) rotate(-90) scale(1.1468,1)" fill="#000"  xml:space="preserve"><tspan font-family="Liberation Sans" font-size="16.55">[photon/s/cm</tspan><tspan font-family="Liberation Sans" font-size="11.88" dy="-6.43">2</tspan><tspan font-family="Liberation Sans" font-size="16.55" dy="6.43">]</tspan></text>
<text transform="translate(641.6,456.93) rotate(-90) scale(1.1236,1)" fill="#000"  xml:space="preserve"><tspan font-family="Liberation Sans" font-size="16.55">Error [%]</tspan></text>
<rect x="699.9" y="74.4" width="32.8" height="26" rx="4.09" fill="#f5deb3" stroke="#000" stroke-width="1.2" fill-opacity="0.5" stroke-opacity="0.5"/>
<text transform="translate(705.68,91.59) scale(1.0624,1)" fill="#000"  xml:space="preserve"><tspan font-family="Liberation Sans" font-size="16.35">(b)</tspan></text>
<rect x="821.2" y="73.6" width="200.6" height="83.2" rx="2.92" fill="#ffffff" stroke="#cccccc" stroke-width="1.1" fill-opacity="0.8"/>
<line x1="825.7" y1="84.9" x2="854.5" y2="84.9" stroke="#ff7f0e" stroke-width="2.04" />
<line x1="827.6" y1="104.3" x2="839.57" y2="104.3" stroke="#000" stroke-width="2.04" stroke-linecap="round"/>
<line x1="851.64" y1="104.3" x2="852.42" y2="104.3" stroke="#000" stroke-width="2.04" stroke-linecap="round"/>
<line x1="825.7" y1="124" x2="854.5" y2="124" stroke="#2e8b57" stroke-width="2.04" />
<line x1="827.6" y1="144.2" x2="839.57" y2="144.2" stroke="#ff0000" stroke-width="2.04" stroke-linecap="round"/>
<line x1="851.64" y1="144.2" x2="852.42" y2="144.2" stroke="#ff0000" stroke-width="2.04" stroke-linecap="round"/>
<text transform="translate(863.7,89.38) scale(1.0304,1)" fill="#000"  xml:space="preserve"><tspan font-family="Liberation Sans" font-size="13.04">RAPTOR,</tspan></text>
<text transform="translate(925.94,89.38) scale(1.2285,1)" fill="#000"  xml:space="preserve"><tspan font-family="Liberation Sans" font-size="13.04">Ω</tspan></text>
<text transform="translate(937.49,91.03) scale(1.1473,1)" fill="#000"  xml:space="preserve"><tspan font-family="Liberation Sans" font-size="9.44" font-style="italic">star</tspan></text>
<text transform="translate(958.84,89.38) scale(1.3824,1)" fill="#000"  xml:space="preserve"><tspan font-family="Liberation Sans" font-size="13.04">=</tspan></text>
<text transform="translate(972.93,89.38) scale(1.1020,1)" fill="#000"  xml:space="preserve"><tspan font-family="Liberation Sans" font-size="13.04">1Hz</tspan></text>
<text transform="translate(864.5,108.78) scale(1.0197,1)" fill="#000"  xml:space="preserve"><tspan font-family="Liberation Sans" font-size="13.04">XPSI,</tspan></text>
<text transform="translate(901.64,108.78) scale(1.1609,1)" fill="#000"  xml:space="preserve"><tspan font-family="Liberation Sans" font-size="13.04">Ω</tspan></text>
<text transform="translate(912.48,110.43) scale(1.1170,1)" fill="#000"  xml:space="preserve"><tspan font-family="Liberation Sans" font-size="9.44" font-style="italic">star</tspan></text>
<text transform="translate(933.82,108.78) scale(1.3824,1)" fill="#000"  xml:space="preserve"><tspan font-family="Liberation Sans" font-size="13.04">=</tspan></text>
<text transform="translate(948.01,108.78) scale(1.0975,1)" fill="#000"  xml:space="preserve"><tspan font-family="Liberation Sans" font-size="13.04">1Hz</tspan></text>
<text transform="translate(863.7,128.48) scale(1.0304,1)" fill="#000"  xml:space="preserve"><tspan font-family="Liberation Sans" font-size="13.04">RAPTOR,</tspan></text>
<text transform="translate(925.94,128.48) scale(1.2285,1)" fill="#000"  xml:space="preserve"><tspan font-family="Liberation Sans" font-size="13.04">Ω</tspan></text>
<text transform="translate(937.49,130.13) scale(1.1473,1)" fill="#000"  xml:space="preserve"><tspan font-family="Liberation Sans" font-size="9.44" font-style="italic">star</tspan></text>
<text transform="translate(958.84,128.48) scale(1.3824,1)" fill="#000"  xml:space="preserve"><tspan font-family="Liberation Sans" font-size="13.04">=</tspan></text>
<text transform="translate(973.69,128.48) scale(1.1123,1)" fill="#000"  xml:space="preserve"><tspan font-family="Liberation Sans" font-size="13.04">400Hz</tspan></text>
<text transform="translate(864.5,148.68) scale(1.0197,1)" fill="#000"  xml:space="preserve"><tspan font-family="Liberation Sans" font-size="13.04">XPSI,</tspan></text>
<text transform="translate(901.64,148.68) scale(1.1609,1)" fill="#000"  xml:space="preserve"><tspan font-family="Liberation Sans" font-size="13.04">Ω</tspan></text>
<text transform="translate(912.48,150.33) scale(1.1170,1)" fill="#000"  xml:space="preserve"><tspan font-family="Liberation Sans" font-size="9.44" font-style="italic">star</tspan></text>
<text transform="translate(933.82,148.68) scale(1.3824,1)" fill="#000"  xml:space="preserve"><tspan font-family="Liberation Sans" font-size="13.04">=</tspan></text>
<text transform="translate(948.77,148.68) scale(1.1176,1)" fill="#000"  xml:space="preserve"><tspan font-family="Liberation Sans" font-size="13.04">400Hz</tspan></text>
<rect x="702.5" y="341.8" width="137.2" height="43.6" rx="2.92" fill="#ffffff" stroke="#cccccc" stroke-width="1.1" fill-opacity="0.8"/>
<line x1="708" y1="352.4" x2="717.44" y2="352.4" stroke="#1f77b4" stroke-width="2.63" />
<line x1="722.02" y1="352.4" x2="731.56" y2="352.4" stroke="#1f77b4" stroke-width="2.63" />
<line x1="708" y1="372.3" x2="717.44" y2="372.3" stroke="#d62728" stroke-width="2.63" />
<line x1="722.02" y1="372.3" x2="731.56" y2="372.3" stroke="#d62728" stroke-width="2.63" />
<text transform="translate(745.06,356.88) scale(1.1609,1)" fill="#000"  xml:space="preserve"><tspan font-family="Liberation Sans" font-size="13.04">Ω</tspan></text>
<text transform="translate(755.9,358.53) scale(1.1170,1)" fill="#000"  xml:space="preserve"><tspan font-family="Liberation Sans" font-size="9.44" font-style="italic">star</tspan></text>
<text transform="translate(777.24,356.88) scale(1.3824,1)" fill="#000"  xml:space="preserve"><tspan font-family="Liberation Sans" font-size="13.04">=</tspan></text>
<text transform="translate(791.43,356.88) scale(1.0975,1)" fill="#000"  xml:space="preserve"><tspan font-family="Liberation Sans" font-size="13.04">1Hz</tspan></text>
<text transform="translate(745.06,376.78) scale(1.1609,1)" fill="#000"  xml:space="preserve"><tspan font-family="Liberation Sans" font-size="13.04">Ω</tspan></text>
<text transform="translate(755.9,378.43) scale(1.1170,1)" fill="#000"  xml:space="preserve"><tspan font-family="Liberation Sans" font-size="9.44" font-style="italic">star</tspan></text>
<text transform="translate(777.24,376.78) scale(1.3824,1)" fill="#000"  xml:space="preserve"><tspan font-family="Liberation Sans" font-size="13.04">=</tspan></text>
<text transform="translate(792.19,376.78) scale(1.1176,1)" fill="#000"  xml:space="preserve"><tspan font-family="Liberation Sans" font-size="13.04">400Hz</tspan></text>
<clipPath id="cmc"><rect x="84.2" y="624.4" width="462.8" height="264.1"/></clipPath>
<clipPath id="cec"><rect x="84.2" y="899.6" width="462.8" height="176.6"/></clipPath>
<line x1="176.76" y1="624.4" x2="176.76" y2="888.5" stroke="#d9d9d9" stroke-width="1.1" stroke-dasharray="4.1 1.8" />
<line x1="269.32" y1="624.4" x2="269.32" y2="888.5" stroke="#d9d9d9" stroke-width="1.1" stroke-dasharray="4.1 1.8" />
<line x1="361.88" y1="624.4" x2="361.88" y2="888.5" stroke="#d9d9d9" stroke-width="1.1" stroke-dasharray="4.1 1.8" />
<line x1="454.44" y1="624.4" x2="454.44" y2="888.5" stroke="#d9d9d9" stroke-width="1.1" stroke-dasharray="4.1 1.8" />
<line x1="84.2" y1="851.4" x2="547" y2="851.4" stroke="#d9d9d9" stroke-width="1.1" stroke-dasharray="4.1 1.8" />
<line x1="84.2" y1="802.65" x2="547" y2="802.65" stroke="#d9d9d9" stroke-width="1.1" stroke-dasharray="4.1 1.8" />
<line x1="84.2" y1="753.9" x2="547" y2="753.9" stroke="#d9d9d9" stroke-width="1.1" stroke-dasharray="4.1 1.8" />
<line x1="84.2" y1="705.15" x2="547" y2="705.15" stroke="#d9d9d9" stroke-width="1.1" stroke-dasharray="4.1 1.8" />
<line x1="84.2" y1="656.4" x2="547" y2="656.4" stroke="#d9d9d9" stroke-width="1.1" stroke-dasharray="4.1 1.8" />
<line x1="176.76" y1="899.6" x2="176.76" y2="1076.2" stroke="#d9d9d9" stroke-width="1.1" stroke-dasharray="4.1 1.8" />
<line x1="269.32" y1="899.6" x2="269.32" y2="1076.2" stroke="#d9d9d9" stroke-width="1.1" stroke-dasharray="4.1 1.8" />
<line x1="361.88" y1="899.6" x2="361.88" y2="1076.2" stroke="#d9d9d9" stroke-width="1.1" stroke-dasharray="4.1 1.8" />
<line x1="454.44" y1="899.6" x2="454.44" y2="1076.2" stroke="#d9d9d9" stroke-width="1.1" stroke-dasharray="4.1 1.8" />
<line x1="84.2" y1="1032.05" x2="547" y2="1032.05" stroke="#d9d9d9" stroke-width="1.1" stroke-dasharray="4.1 1.8" />
<line x1="84.2" y1="987.9" x2="547" y2="987.9" stroke="#d9d9d9" stroke-width="1.1" stroke-dasharray="4.1 1.8" />
<line x1="84.2" y1="943.75" x2="547" y2="943.75" stroke="#d9d9d9" stroke-width="1.1" stroke-dasharray="4.1 1.8" />
<path d="M84.2 649.03 L85.75 650.08 L87.3 651.17 L88.84 652.29 L90.39 653.45 L91.94 654.64 L93.49 655.86 L95.03 657.12 L96.58 658.42 L98.13 659.74 L99.68 661.1 L101.23 662.5 L102.77 663.92 L104.32 665.38 L105.87 666.87 L107.42 668.39 L108.97 669.95 L110.51 671.53 L112.06 673.14 L113.61 674.79 L115.16 676.46 L116.7 678.17 L118.25 679.9 L119.8 681.66 L121.35 683.45 L122.9 685.27 L124.44 687.12 L125.99 689 L127.54 690.9 L129.09 692.83 L130.63 694.79 L132.18 696.77 L133.73 698.78 L135.28 700.81 L136.83 702.87 L138.37 704.96 L139.92 707.07 L141.47 709.2 L143.02 711.36 L144.57 713.53 L146.11 715.73 L147.66 717.94 L149.21 720.17 L150.76 722.42 L152.3 724.68 L153.85 726.96 L155.4 729.25 L156.95 731.55 L158.5 733.86 L160.04 736.18 L161.59 738.51 L163.14 740.84 L164.69 743.18 L166.23 745.53 L167.78 747.88 L169.33 750.23 L170.88 752.58 L172.43 754.93 L173.97 757.28 L175.52 759.63 L177.07 761.98 L178.62 764.32 L180.17 766.65 L181.71 768.98 L183.26 771.3 L184.81 773.61 L186.36 775.91 L187.9 778.2 L189.45 780.48 L191 782.74 L192.55 784.99 L194.1 787.22 L195.64 789.44 L197.19 791.64 L198.74 793.83 L200.29 795.99 L201.83 798.14 L203.38 800.28 L204.93 802.39 L206.48 804.48 L208.03 806.56 L209.57 808.61 L211.12 810.64 L212.67 812.65 L214.22 814.64 L215.77 816.61 L217.31 818.55 L218.86 820.47 L220.41 822.36 L221.96 824.23 L223.5 826.07 L225.05 827.89 L226.6 829.68 L228.15 831.45 L229.7 833.18 L231.24 834.89 L232.79 836.57 L234.34 838.22 L235.89 839.84 L237.43 841.43 L238.98 842.98 L240.53 844.51 L242.08 846 L243.63 847.46 L245.17 848.89 L246.72 850.29 L248.27 851.65 L249.82 852.97 L251.37 854.26 L252.91 855.51 L254.46 856.73 L256.01 857.92 L257.56 859.06 L259.1 860.17 L260.65 861.25 L262.2 862.29 L263.75 863.29 L265.3 864.26 L266.84 865.18 L268.39 866.07 L269.94 866.93 L271.49 867.74 L273.03 868.52 L274.58 869.26 L276.13 869.96 L277.68 870.63 L279.23 871.25 L280.77 871.84 L282.32 872.39 L283.87 872.89 L285.42 873.36 L286.97 873.79 L288.51 874.18 L290.06 874.53 L291.61 874.84 L293.16 875.11 L294.7 875.34 L296.25 875.52 L297.8 875.67 L299.35 875.77 L300.9 875.84 L302.44 875.86 L303.99 875.84 L305.54 875.78 L307.09 875.68 L308.63 875.53 L310.18 875.34 L311.73 875.11 L313.28 874.84 L314.83 874.52 L316.37 874.16 L317.92 873.76 L319.47 873.31 L321.02 872.82 L322.57 872.29 L324.11 871.71 L325.66 871.1 L327.21 870.43 L328.76 869.73 L330.3 868.98 L331.85 868.19 L333.4 867.36 L334.95 866.48 L336.5 865.57 L338.04 864.6 L339.59 863.6 L341.14 862.55 L342.69 861.46 L344.23 860.33 L345.78 859.15 L347.33 857.93 L348.88 856.67 L350.43 855.37 L351.97 854.02 L353.52 852.63 L355.07 851.2 L356.62 849.72 L358.17 848.2 L359.71 846.64 L361.26 845.03 L362.81 843.39 L364.36 841.7 L365.9 839.96 L367.45 838.19 L369 836.37 L370.55 834.51 L372.1 832.6 L373.64 830.66 L375.19 828.67 L376.74 826.63 L378.29 824.56 L379.83 822.44 L381.38 820.28 L382.93 818.08 L384.48 815.84 L386.03 813.57 L387.57 811.25 L389.12 808.9 L390.67 806.51 L392.22 804.09 L393.77 801.63 L395.31 799.14 L396.86 796.62 L398.41 794.07 L399.96 791.49 L401.5 788.88 L403.05 786.24 L404.6 783.57 L406.15 780.87 L407.7 778.15 L409.24 775.41 L410.79 772.64 L412.34 769.85 L413.89 767.03 L415.43 764.2 L416.98 761.34 L418.53 758.47 L420.08 755.58 L421.63 752.67 L423.17 749.74 L424.72 746.8 L426.27 743.86 L427.82 740.92 L429.37 737.98 L430.91 735.05 L432.46 732.13 L434.01 729.24 L435.56 726.37 L437.1 723.53 L438.65 720.74 L440.2 717.98 L441.75 715.27 L443.3 712.62 L444.84 710.01 L446.39 707.45 L447.94 704.94 L449.49 702.46 L451.03 700.03 L452.58 697.63 L454.13 695.27 L455.68 692.94 L457.23 690.66 L458.77 688.42 L460.32 686.22 L461.87 684.07 L463.42 681.96 L464.97 679.89 L466.51 677.86 L468.06 675.89 L469.61 673.96 L471.16 672.07 L472.7 670.24 L474.25 668.45 L475.8 666.72 L477.35 665.03 L478.9 663.4 L480.44 661.81 L481.99 660.28 L483.54 658.81 L485.09 657.39 L486.63 656.02 L488.18 654.71 L489.73 653.46 L491.28 652.27 L492.83 651.13 L494.37 650.06 L495.92 649.04 L497.47 648.08 L499.02 647.19 L500.57 646.36 L502.11 645.59 L503.66 644.89 L505.21 644.25 L506.76 643.67 L508.3 643.16 L509.85 642.7 L511.4 642.31 L512.95 641.99 L514.5 641.72 L516.04 641.51 L517.59 641.37 L519.14 641.29 L520.69 641.26 L522.23 641.3 L523.78 641.4 L525.33 641.55 L526.88 641.77 L528.43 642.04 L529.97 642.38 L531.52 642.77 L533.07 643.22 L534.62 643.73 L536.17 644.3 L537.71 644.92 L539.26 645.6 L540.81 646.34 L542.36 647.13 L543.9 647.99 L545.45 648.89 L547 649.86" fill="none" stroke="#ff7f0e" stroke-width="2.1" stroke-linejoin="round" clip-path="url(#cmc)" />
<path d="M84.2 649.03 L85.75 650.08 L87.3 651.17 L88.84 652.29 L90.39 653.45 L91.94 654.64 L93.49 655.86 L95.03 657.12 L96.58 658.42 L98.13 659.74 L99.68 661.1 L101.23 662.5 L102.77 663.92 L104.32 665.38 L105.87 666.87 L107.42 668.39 L108.97 669.95 L110.51 671.53 L112.06 673.14 L113.61 674.79 L115.16 676.46 L116.7 678.17 L118.25 679.9 L119.8 681.66 L121.35 683.45 L122.9 685.27 L124.44 687.12 L125.99 689 L127.54 690.9 L129.09 692.83 L130.63 694.79 L132.18 696.77 L133.73 698.78 L135.28 700.81 L136.83 702.87 L138.37 704.96 L139.92 707.07 L141.47 709.2 L143.02 711.36 L144.57 713.53 L146.11 715.73 L147.66 717.94 L149.21 720.17 L150.76 722.42 L152.3 724.68 L153.85 726.96 L155.4 729.25 L156.95 731.55 L158.5 733.86 L160.04 736.18 L161.59 738.51 L163.14 740.84 L164.69 743.18 L166.23 745.53 L167.78 747.88 L169.33 750.23 L170.88 752.58 L172.43 754.93 L173.97 757.28 L175.52 759.63 L177.07 761.98 L178.62 764.32 L180.17 766.65 L181.71 768.98 L183.26 771.3 L184.81 773.61 L186.36 775.91 L187.9 778.2 L189.45 780.48 L191 782.74 L192.55 784.99 L194.1 787.22 L195.64 789.44 L197.19 791.64 L198.74 793.83 L200.29 795.99 L201.83 798.14 L203.38 800.28 L204.93 802.39 L206.48 804.48 L208.03 806.56 L209.57 808.61 L211.12 810.64 L212.67 812.65 L214.22 814.64 L215.77 816.61 L217.31 818.55 L218.86 820.47 L220.41 822.36 L221.96 824.23 L223.5 826.07 L225.05 827.89 L226.6 829.68 L228.15 831.45 L229.7 833.18 L231.24 834.89 L232.79 836.57 L234.34 838.22 L235.89 839.84 L237.43 841.43 L238.98 842.98 L240.53 844.51 L242.08 846 L243.63 847.46 L245.17 848.89 L246.72 850.29 L248.27 851.65 L249.82 852.97 L251.37 854.26 L252.91 855.51 L254.46 856.73 L256.01 857.92 L257.56 859.06 L259.1 860.17 L260.65 861.25 L262.2 862.29 L263.75 863.29 L265.3 864.26 L266.84 865.18 L268.39 866.07 L269.94 866.93 L271.49 867.74 L273.03 868.52 L274.58 869.26 L276.13 869.96 L277.68 870.63 L279.23 871.25 L280.77 871.84 L282.32 872.39 L283.87 872.89 L285.42 873.36 L286.97 873.79 L288.51 874.18 L290.06 874.53 L291.61 874.84 L293.16 875.11 L294.7 875.34 L296.25 875.52 L297.8 875.67 L299.35 875.77 L300.9 875.84 L302.44 875.86 L303.99 875.84 L305.54 875.78 L307.09 875.68 L308.63 875.53 L310.18 875.34 L311.73 875.11 L313.28 874.84 L314.83 874.52 L316.37 874.16 L317.92 873.76 L319.47 873.31 L321.02 872.82 L322.57 872.29 L324.11 871.71 L325.66 871.1 L327.21 870.43 L328.76 869.73 L330.3 868.98 L331.85 868.19 L333.4 867.36 L334.95 866.48 L336.5 865.57 L338.04 864.6 L339.59 863.6 L341.14 862.55 L342.69 861.46 L344.23 860.33 L345.78 859.15 L347.33 857.93 L348.88 856.67 L350.43 855.37 L351.97 854.02 L353.52 852.63 L355.07 851.2 L356.62 849.72 L358.17 848.2 L359.71 846.64 L361.26 845.03 L362.81 843.39 L364.36 841.7 L365.9 839.96 L367.45 838.19 L369 836.37 L370.55 834.51 L372.1 832.6 L373.64 830.66 L375.19 828.67 L376.74 826.63 L378.29 824.56 L379.83 822.44 L381.38 820.28 L382.93 818.08 L384.48 815.84 L386.03 813.57 L387.57 811.25 L389.12 808.9 L390.67 806.51 L392.22 804.09 L393.77 801.63 L395.31 799.14 L396.86 796.62 L398.41 794.07 L399.96 791.49 L401.5 788.88 L403.05 786.24 L404.6 783.57 L406.15 780.87 L407.7 778.15 L409.24 775.41 L410.79 772.64 L412.34 769.85 L413.89 767.03 L415.43 764.2 L416.98 761.34 L418.53 758.47 L420.08 755.58 L421.63 752.67 L423.17 749.74 L424.72 746.8 L426.27 743.86 L427.82 740.92 L429.37 737.98 L430.91 735.05 L432.46 732.13 L434.01 729.24 L435.56 726.37 L437.1 723.53 L438.65 720.74 L440.2 717.98 L441.75 715.27 L443.3 712.62 L444.84 710.01 L446.39 707.45 L447.94 704.94 L449.49 702.46 L451.03 700.03 L452.58 697.63 L454.13 695.27 L455.68 692.94 L457.23 690.66 L458.77 688.42 L460.32 686.22 L461.87 684.07 L463.42 681.96 L464.97 679.89 L466.51 677.86 L468.06 675.89 L469.61 673.96 L471.16 672.07 L472.7 670.24 L474.25 668.45 L475.8 666.72 L477.35 665.03 L478.9 663.4 L480.44 661.81 L481.99 660.28 L483.54 658.81 L485.09 657.39 L486.63 656.02 L488.18 654.71 L489.73 653.46 L491.28 652.27 L492.83 651.13 L494.37 650.06 L495.92 649.04 L497.47 648.08 L499.02 647.19 L500.57 646.36 L502.11 645.59 L503.66 644.89 L505.21 644.25 L506.76 643.67 L508.3 643.16 L509.85 642.7 L511.4 642.31 L512.95 641.99 L514.5 641.72 L516.04 641.51 L517.59 641.37 L519.14 641.29 L520.69 641.26 L522.23 641.3 L523.78 641.4 L525.33 641.55 L526.88 641.77 L528.43 642.04 L529.97 642.38 L531.52 642.77 L533.07 643.22 L534.62 643.73 L536.17 644.3 L537.71 644.92 L539.26 645.6 L540.81 646.34 L542.36 647.13 L543.9 647.99 L545.45 648.89 L547 649.86" fill="none" stroke="#000" stroke-width="2.1" stroke-dasharray="7.7 3.3" stroke-linejoin="round" clip-path="url(#cmc)" />
<path d="M84.2 648.68 L85.75 649.92 L87.3 651.19 L88.84 652.49 L90.39 653.82 L91.94 655.19 L93.49 656.59 L95.03 658.01 L96.58 659.47 L98.13 660.96 L99.68 662.47 L101.23 664.02 L102.77 665.59 L104.32 667.19 L105.87 668.82 L107.42 670.47 L108.97 672.15 L110.51 673.85 L112.06 675.58 L113.61 677.33 L115.16 679.1 L116.7 680.9 L118.25 682.72 L119.8 684.56 L121.35 686.42 L122.9 688.31 L124.44 690.21 L125.99 692.13 L127.54 694.07 L129.09 696.03 L130.63 698.01 L132.18 700 L133.73 702.01 L135.28 704.04 L136.83 706.08 L138.37 708.14 L139.92 710.21 L141.47 712.29 L143.02 714.39 L144.57 716.5 L146.11 718.63 L147.66 720.76 L149.21 722.91 L150.76 725.06 L152.3 727.23 L153.85 729.41 L155.4 731.61 L156.95 733.84 L158.5 736.09 L160.04 738.39 L161.59 740.72 L163.14 743.1 L164.69 745.54 L166.23 748.03 L167.78 750.58 L169.33 753.13 L170.88 755.59 L172.43 757.9 L173.97 760.06 L175.52 762.11 L177.07 764.08 L178.62 766.02 L180.17 767.96 L181.71 769.93 L183.26 771.95 L184.81 774.02 L186.36 776.14 L187.9 778.28 L189.45 780.46 L191 782.66 L192.55 784.88 L194.1 787.11 L195.64 789.35 L197.19 791.59 L198.74 793.83 L200.29 796.06 L201.83 798.28 L203.38 800.47 L204.93 802.64 L206.48 804.78 L208.03 806.89 L209.57 808.98 L211.12 811.03 L212.67 813.06 L214.22 815.05 L215.77 817.02 L217.31 818.96 L218.86 820.86 L220.41 822.74 L221.96 824.59 L223.5 826.41 L225.05 828.19 L226.6 829.95 L228.15 831.68 L229.7 833.38 L231.24 835.04 L232.79 836.68 L234.34 838.28 L235.89 839.85 L237.43 841.4 L238.98 842.91 L240.53 844.39 L242.08 845.84 L243.63 847.25 L245.17 848.64 L246.72 849.99 L248.27 851.31 L249.82 852.6 L251.37 853.86 L252.91 855.09 L254.46 856.28 L256.01 857.44 L257.56 858.57 L259.1 859.66 L260.65 860.72 L262.2 861.75 L263.75 862.75 L265.3 863.71 L266.84 864.64 L268.39 865.53 L269.94 866.39 L271.49 867.22 L273.03 868.01 L274.58 868.77 L276.13 869.5 L277.68 870.19 L279.23 870.85 L280.77 871.47 L282.32 872.06 L283.87 872.61 L285.42 873.13 L286.97 873.61 L288.51 874.06 L290.06 874.47 L291.61 874.85 L293.16 875.19 L294.7 875.5 L296.25 875.77 L297.8 876.01 L299.35 876.2 L300.9 876.37 L302.44 876.49 L303.99 876.58 L305.54 876.64 L307.09 876.65 L308.63 876.63 L310.18 876.58 L311.73 876.48 L313.28 876.35 L314.83 876.19 L316.37 875.98 L317.92 875.74 L319.47 875.46 L321.02 875.14 L322.57 874.78 L324.11 874.39 L325.66 873.96 L327.21 873.49 L328.76 872.98 L330.3 872.43 L331.85 871.85 L333.4 871.22 L334.95 870.56 L336.5 869.86 L338.04 869.12 L339.59 868.33 L341.14 867.5 L342.69 866.62 L344.23 865.7 L345.78 864.72 L347.33 863.69 L348.88 862.61 L350.43 861.47 L351.97 860.27 L353.52 859.01 L355.07 857.68 L356.62 856.3 L358.17 854.86 L359.71 853.36 L361.26 851.81 L362.81 850.2 L364.36 848.53 L365.9 846.82 L367.45 845.06 L369 843.25 L370.55 841.39 L372.1 839.49 L373.64 837.54 L375.19 835.54 L376.74 833.5 L378.29 831.41 L379.83 829.27 L381.38 827.09 L382.93 824.86 L384.48 822.58 L386.03 820.26 L387.57 817.89 L389.12 815.47 L390.67 813 L392.22 810.49 L393.77 807.93 L395.31 805.33 L396.86 802.68 L398.41 799.98 L399.96 797.24 L401.5 794.46 L403.05 791.64 L404.6 788.8 L406.15 785.92 L407.7 783.02 L409.24 780.09 L410.79 777.15 L412.34 774.19 L413.89 771.22 L415.43 768.23 L416.98 765.24 L418.53 762.25 L420.08 759.25 L421.63 756.26 L423.17 753.28 L424.72 750.3 L426.27 747.34 L427.82 744.38 L429.37 741.4 L430.91 738.36 L432.46 735.26 L434.01 732.05 L435.56 728.73 L437.1 725.33 L438.65 721.92 L440.2 718.54 L441.75 715.25 L443.3 712.12 L444.84 709.15 L446.39 706.32 L447.94 703.58 L449.49 700.91 L451.03 698.28 L452.58 695.68 L454.13 693.12 L455.68 690.6 L457.23 688.12 L458.77 685.67 L460.32 683.27 L461.87 680.92 L463.42 678.61 L464.97 676.34 L466.51 674.12 L468.06 671.95 L469.61 669.83 L471.16 667.77 L472.7 665.75 L474.25 663.79 L475.8 661.89 L477.35 660.04 L478.9 658.25 L480.44 656.52 L481.99 654.85 L483.54 653.25 L485.09 651.7 L486.63 650.23 L488.18 648.82 L489.73 647.47 L491.28 646.2 L492.83 645 L494.37 643.87 L495.92 642.81 L497.47 641.83 L499.02 640.92 L500.57 640.09 L502.11 639.34 L503.66 638.67 L505.21 638.08 L506.76 637.56 L508.3 637.12 L509.85 636.75 L511.4 636.46 L512.95 636.24 L514.5 636.1 L516.04 636.02 L517.59 636.02 L519.14 636.08 L520.69 636.21 L522.23 636.41 L523.78 636.68 L525.33 637.01 L526.88 637.41 L528.43 637.87 L529.97 638.4 L531.52 638.99 L533.07 639.63 L534.62 640.34 L536.17 641.11 L537.71 641.94 L539.26 642.82 L540.81 643.76 L542.36 644.76 L543.9 645.81 L545.45 646.91 L547 648.07" fill="none" stroke="#228b22" stroke-width="1.9" stroke-dasharray="7.7 3.3" stroke-linejoin="round" clip-path="url(#cmc)" />
<path d="M84.1 984.3 L88.8 984.3 L94.3 984.9 L99.8 985 L108 984.9 L114.8 984.3 L121.7 984.6 L129.9 983.9 L136.7 983.7 L144.9 983.7 L151.7 983.9 L158.6 984.9 L165.4 985 L172.3 983.9 L179.1 982.6 L187.3 981.9 L194.1 982.6 L202.3 984.9 L207.8 986 L216 985.3 L222.9 986 L229.7 987.4 L235 988 L240.5 988.7 L245.9 990.8 L252.8 991.5 L259.6 992.1 L267.8 993.5 L273.3 994.9 L281.5 996.2 L288.3 997.6 L295.2 996.2 L302 995.6 L307.5 997.2 L317.1 996.6 L325.3 996.9 L330.7 994.2 L338.9 995.3 L345.8 994.2 L352.6 992.8 L359.4 992.1 L366.3 989.4 L373.1 988 L381.3 988 L386.8 986 L394.9 983.9 L401.8 982.5 L410 980.9 L418.3 980.9 L425.2 980.9 L432 979.1 L438.9 978.4 L445.8 979.1 L454.1 978.4 L459.6 980.5 L466.4 982.2 L474.7 981.1 L483 981.1 L489.8 980.9 L496.7 982.2 L503.6 982.2 L510.5 983.6 L517.4 983.2 L525.6 984.2 L532.5 984.6 L539.4 983.9 L547 984.2" fill="none" stroke="#d62728" stroke-width="2.7" stroke-dasharray="10.3 4.5" stroke-linejoin="round" clip-path="url(#cec)" />
<rect x="84.2" y="624.4" width="462.8" height="264.1" fill="none" stroke="#000" stroke-width="1.1"/>
<line x1="79.3" y1="851.4" x2="84.2" y2="851.4" stroke="#000" stroke-width="1.1" />
<text transform="translate(65.67,856.89) scale(0.9668,1)" fill="#000"  xml:space="preserve"><tspan font-family="Liberation Sans" font-size="15.58">4</tspan></text>
<line x1="79.3" y1="802.65" x2="84.2" y2="802.65" stroke="#000" stroke-width="1.1" />
<text transform="translate(64.85,808.14) scale(1.0975,1)" fill="#000"  xml:space="preserve"><tspan font-family="Liberation Sans" font-size="15.58">6</tspan></text>
<line x1="79.3" y1="753.9" x2="84.2" y2="753.9" stroke="#000" stroke-width="1.1" />
<text transform="translate(64.99,759.39) scale(1.0792,1)" fill="#000"  xml:space="preserve"><tspan font-family="Liberation Sans" font-size="15.58">8</tspan></text>
<line x1="79.3" y1="705.15" x2="84.2" y2="705.15" stroke="#000" stroke-width="1.1" />
<text transform="translate(55.12,710.64) scale(1.1058,1)" fill="#000"  xml:space="preserve"><tspan font-family="Liberation Sans" font-size="15.58">10</tspan></text>
<line x1="79.3" y1="656.4" x2="84.2" y2="656.4" stroke="#000" stroke-width="1.1" />
<text transform="translate(55.75,661.89) scale(1.0794,1)" fill="#000"  xml:space="preserve"><tspan font-family="Liberation Sans" font-size="15.58">12</tspan></text>
<line x1="84.2" y1="888.5" x2="84.2" y2="893.4" stroke="#000" stroke-width="1.1" />
<line x1="176.76" y1="888.5" x2="176.76" y2="893.4" stroke="#000" stroke-width="1.1" />
<line x1="269.32" y1="888.5" x2="269.32" y2="893.4" stroke="#000" stroke-width="1.1" />
<line x1="361.88" y1="888.5" x2="361.88" y2="893.4" stroke="#000" stroke-width="1.1" />
<line x1="454.44" y1="888.5" x2="454.44" y2="893.4" stroke="#000" stroke-width="1.1" />
<line x1="547" y1="888.5" x2="547" y2="893.4" stroke="#000" stroke-width="1.1" />
<rect x="84.2" y="899.6" width="462.8" height="176.6" fill="none" stroke="#000" stroke-width="1.1"/>
<line x1="79.3" y1="1076.2" x2="84.2" y2="1076.2" stroke="#000" stroke-width="1.1" />
<text transform="translate(38.45,1081.69) scale(1.1660,1)" fill="#000"  xml:space="preserve"><tspan font-family="Liberation Sans" font-size="15.58">−1.0</tspan></text>
<line x1="79.3" y1="1032.05" x2="84.2" y2="1032.05" stroke="#000" stroke-width="1.1" />
<text transform="translate(38.14,1037.54) scale(1.1780,1)" fill="#000"  xml:space="preserve"><tspan font-family="Liberation Sans" font-size="15.58">−0.5</tspan></text>
<line x1="79.3" y1="987.9" x2="84.2" y2="987.9" stroke="#000" stroke-width="1.1" />
<text transform="translate(50.98,993.39) scale(1.0749,1)" fill="#000"  xml:space="preserve"><tspan font-family="Liberation Sans" font-size="15.58">0.0</tspan></text>
<line x1="79.3" y1="943.75" x2="84.2" y2="943.75" stroke="#000" stroke-width="1.1" />
<text transform="translate(51.08,949.24) scale(1.0724,1)" fill="#000"  xml:space="preserve"><tspan font-family="Liberation Sans" font-size="15.58">0.5</tspan></text>
<line x1="79.3" y1="899.6" x2="84.2" y2="899.6" stroke="#000" stroke-width="1.1" />
<text transform="translate(51.17,905.09) scale(1.0659,1)" fill="#000"  xml:space="preserve"><tspan font-family="Liberation Sans" font-size="15.58">1.0</tspan></text>
<line x1="84.2" y1="1076.2" x2="84.2" y2="1081.1" stroke="#000" stroke-width="1.1" />
<text transform="translate(72.61,1096.98) scale(1.0700,1)" fill="#000"  xml:space="preserve"><tspan font-family="Liberation Sans" font-size="15.58">0.0</tspan></text>
<line x1="176.76" y1="1076.2" x2="176.76" y2="1081.1" stroke="#000" stroke-width="1.1" />
<text transform="translate(165.16,1096.98) scale(1.0792,1)" fill="#000"  xml:space="preserve"><tspan font-family="Liberation Sans" font-size="15.58">0.2</tspan></text>
<line x1="269.32" y1="1076.2" x2="269.32" y2="1081.1" stroke="#000" stroke-width="1.1" />
<text transform="translate(257.73,1096.98) scale(1.0621,1)" fill="#000"  xml:space="preserve"><tspan font-family="Liberation Sans" font-size="15.58">0.4</tspan></text>
<line x1="361.88" y1="1076.2" x2="361.88" y2="1081.1" stroke="#000" stroke-width="1.1" />
<text transform="translate(350.29,1096.98) scale(1.0740,1)" fill="#000"  xml:space="preserve"><tspan font-family="Liberation Sans" font-size="15.58">0.6</tspan></text>
<line x1="454.44" y1="1076.2" x2="454.44" y2="1081.1" stroke="#000" stroke-width="1.1" />
<text transform="translate(442.85,1096.98) scale(1.0736,1)" fill="#000"  xml:space="preserve"><tspan font-family="Liberation Sans" font-size="15.58">0.8</tspan></text>
<line x1="547" y1="1076.2" x2="547" y2="1081.1" stroke="#000" stroke-width="1.1" />
<text transform="translate(534.75,1096.98) scale(1.1011,1)" fill="#000"  xml:space="preserve"><tspan font-family="Liberation Sans" font-size="15.58">1.0</tspan></text>
<text transform="translate(281,616.5) scale(0.9714,1)" font-family="Liberation Sans" font-size="17.44" fill="#000" xml:space="preserve">Δ</text>
<text transform="translate(291.8,616.53) scale(1.1342,1)" font-family="Liberation Sans" font-size="17.84" font-style="italic" fill="#000" xml:space="preserve">θ</text>
<text transform="translate(306.67,615.79) scale(1.5377,1)" font-family="Liberation Sans" font-size="13.65" fill="#000" xml:space="preserve">=</text>
<text transform="translate(323.34,616.53) scale(1.0953,1)" font-family="Liberation Sans" font-size="17.23" fill="#000" xml:space="preserve">50</text>
<text transform="translate(346.28,611.87) scale(1.3505,1)" font-family="Liberation Sans" font-size="8.98" fill="#000" xml:space="preserve">°</text>
<text transform="translate(262.71,1117.7) scale(1.0224,1)" fill="#000"  xml:space="preserve"><tspan font-family="Liberation Sans" font-size="16.58">Phase</tspan></text>
<text transform="translate(317.55,1117.7) scale(1.1868,1)" fill="#000"  xml:space="preserve"><tspan font-family="Liberation Sans" font-size="16.58">[</tspan></text>
<text transform="translate(323.35,1117.7) scale(1.1846,1)" fill="#000"  xml:space="preserve"><tspan font-family="Liberation Sans" font-size="16.58">Φ</tspan></text>
<text transform="translate(337.91,1117.7) scale(1.0883,1)" fill="#000"  xml:space="preserve"><tspan font-family="Liberation Sans" font-size="16.58">/</tspan></text>
<text transform="translate(342.63,1117.7) scale(0.9558,1)" fill="#000"  xml:space="preserve"><tspan font-family="Liberation Sans" font-size="16.58">2</tspan></text>
<text transform="translate(350.44,1117.7) scale(1.1045,1)" fill="#000"  xml:space="preserve"><tspan font-family="Liberation Sans" font-size="16.58" font-style="italic">π</tspan></text>
<text transform="translate(364.44,1117.7) scale(1.1868,1)" fill="#000"  xml:space="preserve"><tspan font-family="Liberation Sans" font-size="16.58">]</tspan></text>
<text transform="translate(23.3,829.43) rotate(-90) scale(1.1009,1)" fill="#000"  xml:space="preserve"><tspan font-family="Liberation Sans" font-size="16.98">Bolometric Signal</tspan></text>
<text transform="translate(45.6,818.08) rotate(-90) scale(1.1429,1)" fill="#000"  xml:space="preserve"><tspan font-family="Liberation Sans" font-size="16.98">[photon/s/cm</tspan><tspan font-family="Liberation Sans" font-size="12.19" dy="-6.59">2</tspan><tspan font-family="Liberation Sans" font-size="16.98" dy="6.59">]</tspan></text>
<text transform="translate(28.4,1024.86) rotate(-90) scale(1.1197,1)" fill="#000"  xml:space="preserve"><tspan font-family="Liberation Sans" font-size="16.98">Error [%]</tspan></text>
<rect x="88.5" y="632.4" width="32" height="27" rx="4.2" fill="#f5deb3" stroke="#000" stroke-width="1.2" fill-opacity="0.5" stroke-opacity="0.5"/>
<text transform="translate(93.54,650.2) scale(1.1197,1)" fill="#000"  xml:space="preserve"><tspan font-family="Liberation Sans" font-size="16.78">(c)</tspan></text>
<rect x="192.7" y="631.4" width="245.8" height="64.9" rx="3" fill="#ffffff" stroke="#cccccc" stroke-width="1.1" fill-opacity="0.8"/>
<line x1="196.8" y1="642.6" x2="226.3" y2="642.6" stroke="#ff7f0e" stroke-width="2.3" />
<line x1="198.1" y1="662.9" x2="226.3" y2="662.9" stroke="#000" stroke-width="2.6" stroke-dasharray="7.29 3.4" />
<line x1="198.1" y1="683.2" x2="226.3" y2="683.2" stroke="#228b22" stroke-width="2" stroke-dasharray="7.29 3.4" />
<text transform="translate(237.05,647.5) scale(1.1332,1)" fill="#000"  xml:space="preserve"><tspan font-family="Liberation Sans" font-size="13.59">XPSI, Without time delay</tspan></text>
<text transform="translate(236.15,667.8) scale(1.1174,1)" fill="#000"  xml:space="preserve"><tspan font-family="Liberation Sans" font-size="13.59">RAPTOR, Without time delay</tspan></text>
<text transform="translate(237.05,688.1) scale(1.1323,1)" fill="#000"  xml:space="preserve"><tspan font-family="Liberation Sans" font-size="13.59">XPSI, Including time delay</tspan></text>
<rect x="257.7" y="907.2" width="282.8" height="23.6" rx="3" fill="#ffffff" stroke="#cccccc" stroke-width="1.1" fill-opacity="0.8"/>
<line x1="262.8" y1="918" x2="273.6" y2="918" stroke="#d62728" stroke-width="2.7" />
<line x1="278.2" y1="918" x2="289" y2="918" stroke="#d62728" stroke-width="2.7" />
<text transform="translate(302.27,922.8) scale(1.0968,1)" fill="#000"  xml:space="preserve"><tspan font-family="Liberation Sans" font-size="13.59">XPSI-RAPTOR, Without time delay</tspan></text>
<clipPath id="cmd"><rect x="687.7" y="637.3" width="451" height="257.4"/></clipPath>
<clipPath id="ced"><rect x="687.7" y="905.4" width="451" height="171.9"/></clipPath>
<line x1="777.9" y1="637.3" x2="777.9" y2="894.7" stroke="#d9d9d9" stroke-width="1.1" stroke-dasharray="4.1 1.8" />
<line x1="868.1" y1="637.3" x2="868.1" y2="894.7" stroke="#d9d9d9" stroke-width="1.1" stroke-dasharray="4.1 1.8" />
<line x1="958.3" y1="637.3" x2="958.3" y2="894.7" stroke="#d9d9d9" stroke-width="1.1" stroke-dasharray="4.1 1.8" />
<line x1="1048.5" y1="637.3" x2="1048.5" y2="894.7" stroke="#d9d9d9" stroke-width="1.1" stroke-dasharray="4.1 1.8" />
<line x1="687.7" y1="891.1" x2="1138.7" y2="891.1" stroke="#d9d9d9" stroke-width="1.1" stroke-dasharray="4.1 1.8" />
<line x1="687.7" y1="855.6" x2="1138.7" y2="855.6" stroke="#d9d9d9" stroke-width="1.1" stroke-dasharray="4.1 1.8" />
<line x1="687.7" y1="820.1" x2="1138.7" y2="820.1" stroke="#d9d9d9" stroke-width="1.1" stroke-dasharray="4.1 1.8" />
<line x1="687.7" y1="784.6" x2="1138.7" y2="784.6" stroke="#d9d9d9" stroke-width="1.1" stroke-dasharray="4.1 1.8" />
<line x1="687.7" y1="749.1" x2="1138.7" y2="749.1" stroke="#d9d9d9" stroke-width="1.1" stroke-dasharray="4.1 1.8" />
<line x1="687.7" y1="713.6" x2="1138.7" y2="713.6" stroke="#d9d9d9" stroke-width="1.1" stroke-dasharray="4.1 1.8" />
<line x1="687.7" y1="678.1" x2="1138.7" y2="678.1" stroke="#d9d9d9" stroke-width="1.1" stroke-dasharray="4.1 1.8" />
<line x1="687.7" y1="642.6" x2="1138.7" y2="642.6" stroke="#d9d9d9" stroke-width="1.1" stroke-dasharray="4.1 1.8" />
<line x1="777.9" y1="905.4" x2="777.9" y2="1077.3" stroke="#d9d9d9" stroke-width="1.1" stroke-dasharray="4.1 1.8" />
<line x1="868.1" y1="905.4" x2="868.1" y2="1077.3" stroke="#d9d9d9" stroke-width="1.1" stroke-dasharray="4.1 1.8" />
<line x1="958.3" y1="905.4" x2="958.3" y2="1077.3" stroke="#d9d9d9" stroke-width="1.1" stroke-dasharray="4.1 1.8" />
<line x1="1048.5" y1="905.4" x2="1048.5" y2="1077.3" stroke="#d9d9d9" stroke-width="1.1" stroke-dasharray="4.1 1.8" />
<line x1="687.7" y1="1034.33" x2="1138.7" y2="1034.33" stroke="#d9d9d9" stroke-width="1.1" stroke-dasharray="4.1 1.8" />
<line x1="687.7" y1="991.35" x2="1138.7" y2="991.35" stroke="#d9d9d9" stroke-width="1.1" stroke-dasharray="4.1 1.8" />
<line x1="687.7" y1="948.38" x2="1138.7" y2="948.38" stroke="#d9d9d9" stroke-width="1.1" stroke-dasharray="4.1 1.8" />
<path d="M687.7 667.84 L689.21 668.93 L690.72 670.07 L692.23 671.25 L693.73 672.46 L695.24 673.72 L696.75 675.02 L698.26 676.35 L699.77 677.72 L701.28 679.12 L702.78 680.56 L704.29 682.03 L705.8 683.53 L707.31 685.06 L708.82 686.62 L710.33 688.22 L711.83 689.84 L713.34 691.49 L714.85 693.16 L716.36 694.86 L717.87 696.59 L719.38 698.33 L720.88 700.1 L722.39 701.9 L723.9 703.71 L725.41 705.54 L726.92 707.39 L728.43 709.26 L729.93 711.14 L731.44 713.04 L732.95 714.95 L734.46 716.87 L735.97 718.8 L737.48 720.74 L738.98 722.68 L740.49 724.63 L742 726.58 L743.51 728.53 L745.02 730.48 L746.53 732.43 L748.03 734.37 L749.54 736.31 L751.05 738.24 L752.56 740.16 L754.07 742.08 L755.58 744 L757.08 745.92 L758.59 747.86 L760.1 749.8 L761.61 751.76 L763.12 753.74 L764.63 755.74 L766.13 757.78 L767.64 759.84 L769.15 761.93 L770.66 764.03 L772.17 766.14 L773.68 768.25 L775.18 770.37 L776.69 772.47 L778.2 774.57 L779.71 776.64 L781.22 778.7 L782.73 780.74 L784.24 782.75 L785.74 784.74 L787.25 786.7 L788.76 788.63 L790.27 790.53 L791.78 792.4 L793.29 794.24 L794.79 796.07 L796.3 797.89 L797.81 799.72 L799.32 801.56 L800.83 803.41 L802.34 805.27 L803.84 807.13 L805.35 809 L806.86 810.87 L808.37 812.74 L809.88 814.6 L811.39 816.47 L812.89 818.32 L814.4 820.17 L815.91 822.01 L817.42 823.84 L818.93 825.65 L820.44 827.44 L821.94 829.22 L823.45 830.98 L824.96 832.71 L826.47 834.42 L827.98 836.11 L829.49 837.76 L830.99 839.39 L832.5 840.98 L834.01 842.55 L835.52 844.09 L837.03 845.59 L838.54 847.07 L840.04 848.52 L841.55 849.94 L843.06 851.33 L844.57 852.69 L846.08 854.03 L847.59 855.33 L849.09 856.61 L850.6 857.87 L852.11 859.09 L853.62 860.29 L855.13 861.46 L856.64 862.6 L858.14 863.72 L859.65 864.81 L861.16 865.88 L862.67 866.92 L864.18 867.93 L865.69 868.91 L867.19 869.87 L868.7 870.8 L870.21 871.69 L871.72 872.56 L873.23 873.4 L874.74 874.2 L876.25 874.97 L877.75 875.71 L879.26 876.41 L880.77 877.08 L882.28 877.72 L883.79 878.32 L885.3 878.88 L886.8 879.41 L888.31 879.9 L889.82 880.35 L891.33 880.76 L892.84 881.13 L894.35 881.46 L895.85 881.75 L897.36 882 L898.87 882.21 L900.38 882.37 L901.89 882.49 L903.4 882.56 L904.9 882.59 L906.41 882.58 L907.92 882.52 L909.43 882.41 L910.94 882.25 L912.45 882.05 L913.95 881.79 L915.46 881.49 L916.97 881.14 L918.48 880.73 L919.99 880.27 L921.5 879.77 L923 879.2 L924.51 878.59 L926.02 877.92 L927.53 877.2 L929.04 876.42 L930.55 875.58 L932.05 874.69 L933.56 873.74 L935.07 872.74 L936.58 871.68 L938.09 870.57 L939.6 869.4 L941.1 868.19 L942.61 866.92 L944.12 865.6 L945.63 864.23 L947.14 862.8 L948.65 861.33 L950.15 859.81 L951.66 858.24 L953.17 856.62 L954.68 854.95 L956.19 853.24 L957.7 851.48 L959.21 849.67 L960.71 847.82 L962.22 845.92 L963.73 843.98 L965.24 842 L966.75 839.97 L968.26 837.9 L969.76 835.79 L971.27 833.64 L972.78 831.45 L974.29 829.23 L975.8 826.97 L977.31 824.67 L978.81 822.35 L980.32 819.99 L981.83 817.6 L983.34 815.19 L984.85 812.74 L986.36 810.27 L987.86 807.77 L989.37 805.25 L990.88 802.71 L992.39 800.14 L993.9 797.55 L995.41 794.94 L996.91 792.31 L998.42 789.65 L999.93 786.97 L1001.44 784.27 L1002.95 781.54 L1004.46 778.8 L1005.96 776.03 L1007.47 773.23 L1008.98 770.41 L1010.49 767.57 L1012 764.72 L1013.51 761.85 L1015.01 758.98 L1016.52 756.11 L1018.03 753.24 L1019.54 750.38 L1021.05 747.53 L1022.56 744.7 L1024.06 741.9 L1025.57 739.13 L1027.08 736.39 L1028.59 733.68 L1030.1 731.01 L1031.61 728.38 L1033.11 725.77 L1034.62 723.2 L1036.13 720.66 L1037.64 718.15 L1039.15 715.67 L1040.66 713.21 L1042.16 710.79 L1043.67 708.41 L1045.18 706.06 L1046.69 703.76 L1048.2 701.5 L1049.71 699.29 L1051.22 697.12 L1052.72 695.01 L1054.23 692.94 L1055.74 690.93 L1057.25 688.96 L1058.76 687.05 L1060.27 685.2 L1061.77 683.4 L1063.28 681.65 L1064.79 679.97 L1066.3 678.34 L1067.81 676.77 L1069.32 675.26 L1070.82 673.82 L1072.33 672.43 L1073.84 671.11 L1075.35 669.85 L1076.86 668.66 L1078.37 667.52 L1079.87 666.43 L1081.38 665.4 L1082.89 664.42 L1084.4 663.48 L1085.91 662.6 L1087.42 661.76 L1088.92 660.98 L1090.43 660.25 L1091.94 659.57 L1093.45 658.96 L1094.96 658.4 L1096.47 657.91 L1097.97 657.48 L1099.48 657.11 L1100.99 656.81 L1102.5 656.57 L1104.01 656.39 L1105.52 656.29 L1107.02 656.25 L1108.53 656.28 L1110.04 656.38 L1111.55 656.54 L1113.06 656.78 L1114.57 657.09 L1116.07 657.47 L1117.58 657.93 L1119.09 658.45 L1120.6 659.04 L1122.11 659.69 L1123.62 660.38 L1125.12 661.12 L1126.63 661.89 L1128.14 662.68 L1129.65 663.49 L1131.16 664.3 L1132.67 665.12 L1134.17 665.94 L1135.68 666.74 L1137.19 667.51 L1138.7 668.26" fill="none" stroke="#ff7f0e" stroke-width="2.1" stroke-linejoin="round" clip-path="url(#cmd)" />
<path d="M687.7 667.84 L689.21 668.93 L690.72 670.07 L692.23 671.25 L693.73 672.46 L695.24 673.72 L696.75 675.02 L698.26 676.35 L699.77 677.72 L701.28 679.12 L702.78 680.56 L704.29 682.03 L705.8 683.53 L707.31 685.06 L708.82 686.62 L710.33 688.22 L711.83 689.84 L713.34 691.49 L714.85 693.16 L716.36 694.86 L717.87 696.59 L719.38 698.33 L720.88 700.1 L722.39 701.9 L723.9 703.71 L725.41 705.54 L726.92 707.39 L728.43 709.26 L729.93 711.14 L731.44 713.04 L732.95 714.95 L734.46 716.87 L735.97 718.8 L737.48 720.74 L738.98 722.68 L740.49 724.63 L742 726.58 L743.51 728.53 L745.02 730.48 L746.53 732.43 L748.03 734.37 L749.54 736.31 L751.05 738.24 L752.56 740.16 L754.07 742.08 L755.58 744 L757.08 745.92 L758.59 747.86 L760.1 749.8 L761.61 751.76 L763.12 753.74 L764.63 755.74 L766.13 757.78 L767.64 759.84 L769.15 761.93 L770.66 764.03 L772.17 766.14 L773.68 768.25 L775.18 770.37 L776.69 772.47 L778.2 774.57 L779.71 776.64 L781.22 778.7 L782.73 780.74 L784.24 782.75 L785.74 784.74 L787.25 786.7 L788.76 788.63 L790.27 790.53 L791.78 792.4 L793.29 794.24 L794.79 796.07 L796.3 797.89 L797.81 799.72 L799.32 801.56 L800.83 803.41 L802.34 805.27 L803.84 807.13 L805.35 809 L806.86 810.87 L808.37 812.74 L809.88 814.6 L811.39 816.47 L812.89 818.32 L814.4 820.17 L815.91 822.01 L817.42 823.84 L818.93 825.65 L820.44 827.44 L821.94 829.22 L823.45 830.98 L824.96 832.71 L826.47 834.42 L827.98 836.11 L829.49 837.76 L830.99 839.39 L832.5 840.98 L834.01 842.55 L835.52 844.09 L837.03 845.59 L838.54 847.07 L840.04 848.52 L841.55 849.94 L843.06 851.33 L844.57 852.69 L846.08 854.03 L847.59 855.33 L849.09 856.61 L850.6 857.87 L852.11 859.09 L853.62 860.29 L855.13 861.46 L856.64 862.6 L858.14 863.72 L859.65 864.81 L861.16 865.88 L862.67 866.92 L864.18 867.93 L865.69 868.91 L867.19 869.87 L868.7 870.8 L870.21 871.69 L871.72 872.56 L873.23 873.4 L874.74 874.2 L876.25 874.97 L877.75 875.71 L879.26 876.41 L880.77 877.08 L882.28 877.72 L883.79 878.32 L885.3 878.88 L886.8 879.41 L888.31 879.9 L889.82 880.35 L891.33 880.76 L892.84 881.13 L894.35 881.46 L895.85 881.75 L897.36 882 L898.87 882.21 L900.38 882.37 L901.89 882.49 L903.4 882.56 L904.9 882.59 L906.41 882.58 L907.92 882.52 L909.43 882.41 L910.94 882.25 L912.45 882.05 L913.95 881.79 L915.46 881.49 L916.97 881.14 L918.48 880.73 L919.99 880.27 L921.5 879.77 L923 879.2 L924.51 878.59 L926.02 877.92 L927.53 877.2 L929.04 876.42 L930.55 875.58 L932.05 874.69 L933.56 873.74 L935.07 872.74 L936.58 871.68 L938.09 870.57 L939.6 869.4 L941.1 868.19 L942.61 866.92 L944.12 865.6 L945.63 864.23 L947.14 862.8 L948.65 861.33 L950.15 859.81 L951.66 858.24 L953.17 856.62 L954.68 854.95 L956.19 853.24 L957.7 851.48 L959.21 849.67 L960.71 847.82 L962.22 845.92 L963.73 843.98 L965.24 842 L966.75 839.97 L968.26 837.9 L969.76 835.79 L971.27 833.64 L972.78 831.45 L974.29 829.23 L975.8 826.97 L977.31 824.67 L978.81 822.35 L980.32 819.99 L981.83 817.6 L983.34 815.19 L984.85 812.74 L986.36 810.27 L987.86 807.77 L989.37 805.25 L990.88 802.71 L992.39 800.14 L993.9 797.55 L995.41 794.94 L996.91 792.31 L998.42 789.65 L999.93 786.97 L1001.44 784.27 L1002.95 781.54 L1004.46 778.8 L1005.96 776.03 L1007.47 773.23 L1008.98 770.41 L1010.49 767.57 L1012 764.72 L1013.51 761.85 L1015.01 758.98 L1016.52 756.11 L1018.03 753.24 L1019.54 750.38 L1021.05 747.53 L1022.56 744.7 L1024.06 741.9 L1025.57 739.13 L1027.08 736.39 L1028.59 733.68 L1030.1 731.01 L1031.61 728.38 L1033.11 725.77 L1034.62 723.2 L1036.13 720.66 L1037.64 718.15 L1039.15 715.67 L1040.66 713.21 L1042.16 710.79 L1043.67 708.41 L1045.18 706.06 L1046.69 703.76 L1048.2 701.5 L1049.71 699.29 L1051.22 697.12 L1052.72 695.01 L1054.23 692.94 L1055.74 690.93 L1057.25 688.96 L1058.76 687.05 L1060.27 685.2 L1061.77 683.4 L1063.28 681.65 L1064.79 679.97 L1066.3 678.34 L1067.81 676.77 L1069.32 675.26 L1070.82 673.82 L1072.33 672.43 L1073.84 671.11 L1075.35 669.85 L1076.86 668.66 L1078.37 667.52 L1079.87 666.43 L1081.38 665.4 L1082.89 664.42 L1084.4 663.48 L1085.91 662.6 L1087.42 661.76 L1088.92 660.98 L1090.43 660.25 L1091.94 659.57 L1093.45 658.96 L1094.96 658.4 L1096.47 657.91 L1097.97 657.48 L1099.48 657.11 L1100.99 656.81 L1102.5 656.57 L1104.01 656.39 L1105.52 656.29 L1107.02 656.25 L1108.53 656.28 L1110.04 656.38 L1111.55 656.54 L1113.06 656.78 L1114.57 657.09 L1116.07 657.47 L1117.58 657.93 L1119.09 658.45 L1120.6 659.04 L1122.11 659.69 L1123.62 660.38 L1125.12 661.12 L1126.63 661.89 L1128.14 662.68 L1129.65 663.49 L1131.16 664.3 L1132.67 665.12 L1134.17 665.94 L1135.68 666.74 L1137.19 667.51 L1138.7 668.26" fill="none" stroke="#000" stroke-width="2.1" stroke-dasharray="7.7 3.3" stroke-linejoin="round" clip-path="url(#cmd)" />
<path d="M687.7 669.54 L689.21 670.88 L690.72 672.25 L692.23 673.65 L693.73 675.09 L695.24 676.56 L696.75 678.06 L698.26 679.59 L699.77 681.15 L701.28 682.74 L702.78 684.35 L704.29 685.99 L705.8 687.66 L707.31 689.35 L708.82 691.06 L710.33 692.79 L711.83 694.54 L713.34 696.32 L714.85 698.11 L716.36 699.92 L717.87 701.74 L719.38 703.58 L720.88 705.43 L722.39 707.3 L723.9 709.18 L725.41 711.07 L726.92 712.97 L728.43 714.88 L729.93 716.79 L731.44 718.72 L732.95 720.64 L734.46 722.58 L735.97 724.51 L737.48 726.45 L738.98 728.39 L740.49 730.33 L742 732.27 L743.51 734.21 L745.02 736.15 L746.53 738.08 L748.03 740 L749.54 741.92 L751.05 743.84 L752.56 745.74 L754.07 747.64 L755.58 749.52 L757.08 751.4 L758.59 753.26 L760.1 755.12 L761.61 756.99 L763.12 758.88 L764.63 760.8 L766.13 762.75 L767.64 764.76 L769.15 766.82 L770.66 768.95 L772.17 771.16 L773.68 773.43 L775.18 775.71 L776.69 777.96 L778.2 780.12 L779.71 782.14 L781.22 784.05 L782.73 785.85 L784.24 787.59 L785.74 789.28 L787.25 790.95 L788.76 792.63 L790.27 794.31 L791.78 795.99 L793.29 797.68 L794.79 799.36 L796.3 801.05 L797.81 802.74 L799.32 804.43 L800.83 806.12 L802.34 807.81 L803.84 809.5 L805.35 811.19 L806.86 812.88 L808.37 814.57 L809.88 816.25 L811.39 817.93 L812.89 819.61 L814.4 821.28 L815.91 822.95 L817.42 824.61 L818.93 826.26 L820.44 827.9 L821.94 829.53 L823.45 831.15 L824.96 832.74 L826.47 834.33 L827.98 835.89 L829.49 837.43 L830.99 838.95 L832.5 840.45 L834.01 841.92 L835.52 843.37 L837.03 844.78 L838.54 846.17 L840.04 847.52 L841.55 848.84 L843.06 850.13 L844.57 851.37 L846.08 852.58 L847.59 853.75 L849.09 854.88 L850.6 855.96 L852.11 857.01 L853.62 858.01 L855.13 858.97 L856.64 859.91 L858.14 860.83 L859.65 861.73 L861.16 862.62 L862.67 863.5 L864.18 864.38 L865.69 865.26 L867.19 866.16 L868.7 867.06 L870.21 867.99 L871.72 868.95 L873.23 869.93 L874.74 870.91 L876.25 871.89 L877.75 872.86 L879.26 873.79 L880.77 874.69 L882.28 875.53 L883.79 876.33 L885.3 877.08 L886.8 877.78 L888.31 878.44 L889.82 879.05 L891.33 879.61 L892.84 880.13 L894.35 880.6 L895.85 881.03 L897.36 881.42 L898.87 881.76 L900.38 882.06 L901.89 882.32 L903.4 882.54 L904.9 882.71 L906.41 882.85 L907.92 882.94 L909.43 883 L910.94 883.02 L912.45 883 L913.95 882.94 L915.46 882.84 L916.97 882.71 L918.48 882.54 L919.99 882.34 L921.5 882.09 L923 881.8 L924.51 881.48 L926.02 881.1 L927.53 880.69 L929.04 880.23 L930.55 879.72 L932.05 879.17 L933.56 878.56 L935.07 877.91 L936.58 877.2 L938.09 876.45 L939.6 875.64 L941.1 874.77 L942.61 873.85 L944.12 872.87 L945.63 871.83 L947.14 870.73 L948.65 869.57 L950.15 868.35 L951.66 867.07 L953.17 865.72 L954.68 864.32 L956.19 862.84 L957.7 861.31 L959.21 859.7 L960.71 858.04 L962.22 856.3 L963.73 854.5 L965.24 852.63 L966.75 850.69 L968.26 848.68 L969.76 846.6 L971.27 844.45 L972.78 842.23 L974.29 839.93 L975.8 837.57 L977.31 835.13 L978.81 832.61 L980.32 830.02 L981.83 827.36 L983.34 824.62 L984.85 821.82 L986.36 818.95 L987.86 816.04 L989.37 813.07 L990.88 810.06 L992.39 807.02 L993.9 803.94 L995.41 800.84 L996.91 797.72 L998.42 794.58 L999.93 791.44 L1001.44 788.3 L1002.95 785.16 L1004.46 782.03 L1005.96 778.92 L1007.47 775.82 L1008.98 772.74 L1010.49 769.68 L1012 766.63 L1013.51 763.6 L1015.01 760.58 L1016.52 757.58 L1018.03 754.59 L1019.54 751.62 L1021.05 748.66 L1022.56 745.71 L1024.06 742.78 L1025.57 739.86 L1027.08 736.95 L1028.59 734.06 L1030.1 731.16 L1031.61 728.24 L1033.11 725.24 L1034.62 722.15 L1036.13 718.93 L1037.64 715.59 L1039.15 712.21 L1040.66 708.89 L1042.16 705.69 L1043.67 702.62 L1045.18 699.66 L1046.69 696.8 L1048.2 694.02 L1049.71 691.34 L1051.22 688.74 L1052.72 686.22 L1054.23 683.8 L1055.74 681.46 L1057.25 679.2 L1058.76 677.03 L1060.27 674.95 L1061.77 672.95 L1063.28 671.03 L1064.79 669.2 L1066.3 667.45 L1067.81 665.79 L1069.32 664.2 L1070.82 662.7 L1072.33 661.28 L1073.84 659.94 L1075.35 658.68 L1076.86 657.5 L1078.37 656.4 L1079.87 655.38 L1081.38 654.44 L1082.89 653.57 L1084.4 652.79 L1085.91 652.08 L1087.42 651.45 L1088.92 650.9 L1090.43 650.42 L1091.94 650.02 L1093.45 649.7 L1094.96 649.45 L1096.47 649.28 L1097.97 649.17 L1099.48 649.14 L1100.99 649.18 L1102.5 649.28 L1104.01 649.45 L1105.52 649.68 L1107.02 649.98 L1108.53 650.33 L1110.04 650.75 L1111.55 651.22 L1113.06 651.75 L1114.57 652.33 L1116.07 652.96 L1117.58 653.64 L1119.09 654.37 L1120.6 655.15 L1122.11 655.97 L1123.62 656.83 L1125.12 657.74 L1126.63 658.69 L1128.14 659.67 L1129.65 660.69 L1131.16 661.75 L1132.67 662.83 L1134.17 663.95 L1135.68 665.1 L1137.19 666.28 L1138.7 667.48" fill="none" stroke="#228b22" stroke-width="1.9" stroke-dasharray="7.7 3.3" stroke-linejoin="round" clip-path="url(#cmd)" />
<path d="M687.9 1020.4 L692.2 977.1 L699.1 960.1 L704.5 1000.3 L711.5 997.2 L716.9 977.1 L722.3 978.7 L728.5 990.3 L731.6 992.6 L738.5 1008 L744.7 1011.1 L750.1 964.8 L756.3 1007.2 L767.9 967.1 L777.1 979.4 L785.6 976.4 L791 980.2 L798 1004.9 L804.2 1030.4 L808 1028.1 L818.1 967.9 L825 1011.1 L830.4 1014.2 L835.8 955.5 L842.8 964.8 L847.4 1035.8 L853.6 941.6 L859.8 918.4 L864.4 966.3 L869.8 926.9 L876 1006.5 L881.4 1006.5 L887.6 1045.1 L898.4 898 L900.7 898 L908 964.8 L911.9 1045.1 L915.7 1065.2 L919.6 980.2 L927.3 900 L931.2 949.3 L935 1014.2 L938.9 1045.1 L945.8 1009.6 L950.5 1009.6 L955.9 930.8 L961.3 967.9 L967.5 920 L972.9 941.6 L979 1036.6 L985.2 964.8 L990.6 952.4 L996 1014.2 L1001.4 1020.4 L1006.8 971 L1013 984.9 L1019.2 1020.4 L1024.6 1026.6 L1035.4 978.7 L1041.6 975.6 L1048.6 985.6 L1058.6 964.8 L1069.4 1006.5 L1076.4 967.9 L1081.8 1011.1 L1088 1008.8 L1094.1 994.1 L1104.9 978.7 L1116.5 1000.3 L1121.2 1001.8 L1128.1 961.7 L1138.7 1020.4" fill="none" stroke="#d62728" stroke-width="2.7" stroke-dasharray="10.3 4.5" stroke-linejoin="round" clip-path="url(#ced)" />
<rect x="687.7" y="637.3" width="451" height="257.4" fill="none" stroke="#000" stroke-width="1.1"/>
<line x1="682.93" y1="891.1" x2="687.7" y2="891.1" stroke="#000" stroke-width="1.1" />
<text transform="translate(646.06,896.46) scale(1.0874,1)" fill="#000"  xml:space="preserve"><tspan font-family="Liberation Sans" font-size="15.19">0.02</tspan></text>
<line x1="682.93" y1="855.6" x2="687.7" y2="855.6" stroke="#000" stroke-width="1.1" />
<text transform="translate(646.07,860.96) scale(1.0752,1)" fill="#000"  xml:space="preserve"><tspan font-family="Liberation Sans" font-size="15.19">0.04</tspan></text>
<line x1="682.93" y1="820.1" x2="687.7" y2="820.1" stroke="#000" stroke-width="1.1" />
<text transform="translate(646.06,825.46) scale(1.0837,1)" fill="#000"  xml:space="preserve"><tspan font-family="Liberation Sans" font-size="15.19">0.06</tspan></text>
<line x1="682.93" y1="784.6" x2="687.7" y2="784.6" stroke="#000" stroke-width="1.1" />
<text transform="translate(646.06,789.96) scale(1.0834,1)" fill="#000"  xml:space="preserve"><tspan font-family="Liberation Sans" font-size="15.19">0.08</tspan></text>
<line x1="682.93" y1="749.1" x2="687.7" y2="749.1" stroke="#000" stroke-width="1.1" />
<text transform="translate(646.26,754.46) scale(1.0740,1)" fill="#000"  xml:space="preserve"><tspan font-family="Liberation Sans" font-size="15.19">0.10</tspan></text>
<line x1="682.93" y1="713.6" x2="687.7" y2="713.6" stroke="#000" stroke-width="1.1" />
<text transform="translate(646.26,718.96) scale(1.0805,1)" fill="#000"  xml:space="preserve"><tspan font-family="Liberation Sans" font-size="15.19">0.12</tspan></text>
<line x1="682.93" y1="678.1" x2="687.7" y2="678.1" stroke="#000" stroke-width="1.1" />
<text transform="translate(646.07,683.46) scale(1.0752,1)" fill="#000"  xml:space="preserve"><tspan font-family="Liberation Sans" font-size="15.19">0.14</tspan></text>
<line x1="682.93" y1="642.6" x2="687.7" y2="642.6" stroke="#000" stroke-width="1.1" />
<text transform="translate(646.06,647.96) scale(1.0837,1)" fill="#000"  xml:space="preserve"><tspan font-family="Liberation Sans" font-size="15.19">0.16</tspan></text>
<line x1="687.7" y1="894.7" x2="687.7" y2="899.47" stroke="#000" stroke-width="1.1" />
<line x1="777.9" y1="894.7" x2="777.9" y2="899.47" stroke="#000" stroke-width="1.1" />
<line x1="868.1" y1="894.7" x2="868.1" y2="899.47" stroke="#000" stroke-width="1.1" />
<line x1="958.3" y1="894.7" x2="958.3" y2="899.47" stroke="#000" stroke-width="1.1" />
<line x1="1048.5" y1="894.7" x2="1048.5" y2="899.47" stroke="#000" stroke-width="1.1" />
<line x1="1138.7" y1="894.7" x2="1138.7" y2="899.47" stroke="#000" stroke-width="1.1" />
<rect x="687.7" y="905.4" width="451" height="171.9" fill="none" stroke="#000" stroke-width="1.1"/>
<line x1="682.93" y1="1077.3" x2="687.7" y2="1077.3" stroke="#000" stroke-width="1.1" />
<text transform="translate(643.11,1082.66) scale(1.1660,1)" fill="#000"  xml:space="preserve"><tspan font-family="Liberation Sans" font-size="15.19">−1.0</tspan></text>
<line x1="682.93" y1="1034.33" x2="687.7" y2="1034.33" stroke="#000" stroke-width="1.1" />
<text transform="translate(642.81,1039.68) scale(1.1780,1)" fill="#000"  xml:space="preserve"><tspan font-family="Liberation Sans" font-size="15.19">−0.5</tspan></text>
<line x1="682.93" y1="991.35" x2="687.7" y2="991.35" stroke="#000" stroke-width="1.1" />
<text transform="translate(655.32,996.71) scale(1.0749,1)" fill="#000"  xml:space="preserve"><tspan font-family="Liberation Sans" font-size="15.19">0.0</tspan></text>
<line x1="682.93" y1="948.38" x2="687.7" y2="948.38" stroke="#000" stroke-width="1.1" />
<text transform="translate(655.42,953.73) scale(1.0724,1)" fill="#000"  xml:space="preserve"><tspan font-family="Liberation Sans" font-size="15.19">0.5</tspan></text>
<line x1="682.93" y1="905.4" x2="687.7" y2="905.4" stroke="#000" stroke-width="1.1" />
<text transform="translate(655.5,910.76) scale(1.0659,1)" fill="#000"  xml:space="preserve"><tspan font-family="Liberation Sans" font-size="15.19">1.0</tspan></text>
<line x1="687.7" y1="1077.3" x2="687.7" y2="1082.07" stroke="#000" stroke-width="1.1" />
<text transform="translate(676.4,1097.55) scale(1.0700,1)" fill="#000"  xml:space="preserve"><tspan font-family="Liberation Sans" font-size="15.19">0.0</tspan></text>
<line x1="777.9" y1="1077.3" x2="777.9" y2="1082.07" stroke="#000" stroke-width="1.1" />
<text transform="translate(766.6,1097.55) scale(1.0792,1)" fill="#000"  xml:space="preserve"><tspan font-family="Liberation Sans" font-size="15.19">0.2</tspan></text>
<line x1="868.1" y1="1077.3" x2="868.1" y2="1082.07" stroke="#000" stroke-width="1.1" />
<text transform="translate(856.81,1097.55) scale(1.0621,1)" fill="#000"  xml:space="preserve"><tspan font-family="Liberation Sans" font-size="15.19">0.4</tspan></text>
<line x1="958.3" y1="1077.3" x2="958.3" y2="1082.07" stroke="#000" stroke-width="1.1" />
<text transform="translate(947,1097.55) scale(1.0740,1)" fill="#000"  xml:space="preserve"><tspan font-family="Liberation Sans" font-size="15.19">0.6</tspan></text>
<line x1="1048.5" y1="1077.3" x2="1048.5" y2="1082.07" stroke="#000" stroke-width="1.1" />
<text transform="translate(1037.2,1097.55) scale(1.0736,1)" fill="#000"  xml:space="preserve"><tspan font-family="Liberation Sans" font-size="15.19">0.8</tspan></text>
<line x1="1138.7" y1="1077.3" x2="1138.7" y2="1082.07" stroke="#000" stroke-width="1.1" />
<text transform="translate(1126.76,1097.55) scale(1.1011,1)" fill="#000"  xml:space="preserve"><tspan font-family="Liberation Sans" font-size="15.19">1.0</tspan></text>
<text transform="translate(884.52,629.2) scale(0.9395,1)" font-family="Liberation Sans" font-size="16.98" fill="#000" xml:space="preserve">Δ</text>
<text transform="translate(895.13,629.23) scale(1.0103,1)" font-family="Liberation Sans" font-size="17.37" font-style="italic" fill="#000" xml:space="preserve">θ</text>
<text transform="translate(909.02,628.51) scale(1.6566,1)" font-family="Liberation Sans" font-size="13.29" fill="#000" xml:space="preserve">=</text>
<text transform="translate(925.57,629.23) scale(1.0654,1)" font-family="Liberation Sans" font-size="17.02" fill="#000" xml:space="preserve">5</text>
<text transform="translate(938.04,624.69) scale(1.4364,1)" font-family="Liberation Sans" font-size="8.75" fill="#000" xml:space="preserve">°</text>
<text transform="translate(861.74,1118.2) scale(1.0229,1)" fill="#000"  xml:space="preserve"><tspan font-family="Liberation Sans" font-size="16.16">Phase</tspan></text>
<text transform="translate(915.22,1118.2) scale(1.1873,1)" fill="#000"  xml:space="preserve"><tspan font-family="Liberation Sans" font-size="16.16">[</tspan></text>
<text transform="translate(920.88,1118.2) scale(1.1851,1)" fill="#000"  xml:space="preserve"><tspan font-family="Liberation Sans" font-size="16.16">Φ</tspan></text>
<text transform="translate(935.07,1118.2) scale(1.0888,1)" fill="#000"  xml:space="preserve"><tspan font-family="Liberation Sans" font-size="16.16">/</tspan></text>
<text transform="translate(939.68,1118.2) scale(0.9562,1)" fill="#000"  xml:space="preserve"><tspan font-family="Liberation Sans" font-size="16.16">2</tspan></text>
<text transform="translate(947.29,1118.2) scale(1.1050,1)" fill="#000"  xml:space="preserve"><tspan font-family="Liberation Sans" font-size="16.16" font-style="italic">π</tspan></text>
<text transform="translate(960.94,1118.2) scale(1.1873,1)" fill="#000"  xml:space="preserve"><tspan font-family="Liberation Sans" font-size="16.16">]</tspan></text>
<text transform="translate(615.3,837.3) rotate(-90) scale(1.1066,1)" fill="#000"  xml:space="preserve"><tspan font-family="Liberation Sans" font-size="16.55">Bolometric Signal</tspan></text>
<text transform="translate(636.4,826.16) rotate(-90) scale(1.1485,1)" fill="#000"  xml:space="preserve"><tspan font-family="Liberation Sans" font-size="16.55">[photon/s/cm</tspan><tspan font-family="Liberation Sans" font-size="11.88" dy="-6.43">2</tspan><tspan font-family="Liberation Sans" font-size="16.55" dy="6.43">]</tspan></text>
<text transform="translate(633.7,1028.13) rotate(-90) scale(1.1233,1)" fill="#000"  xml:space="preserve"><tspan font-family="Liberation Sans" font-size="16.55">Error [%]</tspan></text>
<rect x="692.5" y="645.3" width="32.1" height="25.5" rx="4.09" fill="#f5deb3" stroke="#000" stroke-width="1.2" fill-opacity="0.5" stroke-opacity="0.5"/>
<text transform="translate(697.93,662.24) scale(1.0624,1)" fill="#000"  xml:space="preserve"><tspan font-family="Liberation Sans" font-size="16.36">(d)</tspan></text>
<rect x="793.4" y="644.7" width="240.5" height="62.3" rx="2.92" fill="#ffffff" stroke="#cccccc" stroke-width="1.1" fill-opacity="0.8"/>
<line x1="798" y1="655.1" x2="826.2" y2="655.1" stroke="#ff7f0e" stroke-width="2.24" />
<line x1="799.27" y1="674.7" x2="826.2" y2="674.7" stroke="#000" stroke-width="2.53" stroke-dasharray="7.11 3.31" />
<line x1="799.27" y1="694.3" x2="826.2" y2="694.3" stroke="#228b22" stroke-width="1.95" stroke-dasharray="7.11 3.31" />
<text transform="translate(836.86,659.87) scale(1.1332,1)" fill="#000"  xml:space="preserve"><tspan font-family="Liberation Sans" font-size="13.24">XPSI, Without time delay</tspan></text>
<text transform="translate(835.99,679.47) scale(1.1136,1)" fill="#000"  xml:space="preserve"><tspan font-family="Liberation Sans" font-size="13.24">RAPTOR, Without time delay</tspan></text>
<text transform="translate(836.86,699.07) scale(1.1326,1)" fill="#000"  xml:space="preserve"><tspan font-family="Liberation Sans" font-size="13.24">XPSI, Including time delay</tspan></text>
<rect x="694.6" y="1047.2" width="274.4" height="23.6" rx="2.92" fill="#ffffff" stroke="#cccccc" stroke-width="1.1" fill-opacity="0.8"/>
<line x1="700.3" y1="1057.4" x2="709.2" y2="1057.4" stroke="#d62728" stroke-width="2.63" />
<line x1="714.4" y1="1057.4" x2="723.3" y2="1057.4" stroke="#d62728" stroke-width="2.63" />
<text transform="translate(737.87,1062.07) scale(1.0932,1)" fill="#000"  xml:space="preserve"><tspan font-family="Liberation Sans" font-size="13.24">XPSI-RAPTOR, Without time delay</tspan></text>
</svg>
</body></html>
